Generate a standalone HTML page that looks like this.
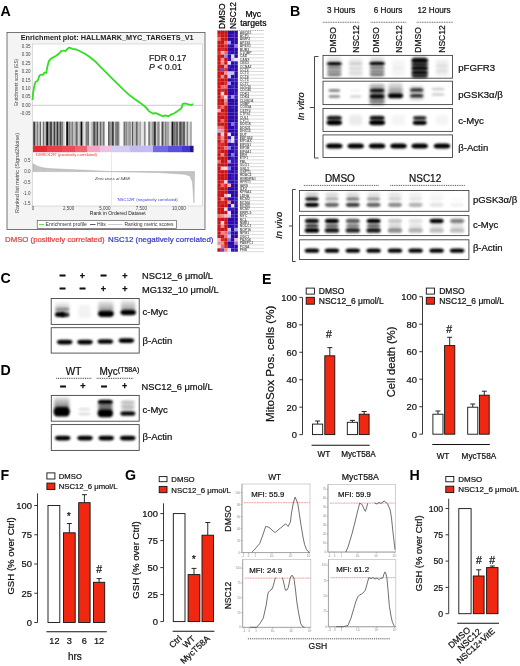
<!DOCTYPE html>
<html><head><meta charset="utf-8"><title>Figure</title>
<style>
html,body{margin:0;padding:0;background:#fff;}
body{width:520px;height:666px;overflow:hidden;}
svg{display:block;font-family:"Liberation Sans", Arial, sans-serif;filter:blur(0.3px);}
</style></head>
<body>
<svg width="520" height="666" viewBox="0 0 520 666">
<rect width="520" height="666" fill="#fff"/>
<text x="0.4" y="15.8" font-size="14.2" text-anchor="start" font-weight="bold" fill="#000" stroke="#000" stroke-width="0.00" >A</text>
<text x="290" y="15.7" font-size="14.2" text-anchor="start" font-weight="bold" fill="#000" stroke="#000" stroke-width="0.00" >B</text>
<text x="0.4" y="282.5" font-size="14.2" text-anchor="start" font-weight="bold" fill="#000" stroke="#000" stroke-width="0.00" >C</text>
<text x="0.5" y="375.4" font-size="14.2" text-anchor="start" font-weight="bold" fill="#000" stroke="#000" stroke-width="0.00" >D</text>
<text x="262" y="283.7" font-size="14.2" text-anchor="start" font-weight="bold" fill="#000" stroke="#000" stroke-width="0.00" >E</text>
<text x="0.6" y="480.2" font-size="14.2" text-anchor="start" font-weight="bold" fill="#000" stroke="#000" stroke-width="0.00" >F</text>
<text x="125" y="480.2" font-size="14.2" text-anchor="start" font-weight="bold" fill="#000" stroke="#000" stroke-width="0.00" >G</text>
<text x="409.4" y="479.6" font-size="14.2" text-anchor="start" font-weight="bold" fill="#000" stroke="#000" stroke-width="0.00" >H</text>
<rect x="7" y="32.5" width="198" height="197" fill="#f4f4f4" stroke="#555" stroke-width="0.8"/>
<text x="20.7" y="39.8" font-size="7.3" text-anchor="start" font-weight="bold" fill="#222" stroke="#222" stroke-width="0.00" >Enrichment plot: HALLMARK_MYC_TARGETS_V1</text>
<rect x="32.5" y="44" width="170" height="162" fill="#fff" stroke="#bbb" stroke-width="0.5"/>
<text x="30.6" y="47.85" font-size="4.5" text-anchor="end" fill="#444" stroke="#444" stroke-width="0.00" >0.35</text>
<text x="30.6" y="56.29" font-size="4.5" text-anchor="end" fill="#444" stroke="#444" stroke-width="0.00" >0.30</text>
<text x="30.6" y="64.72999999999999" font-size="4.5" text-anchor="end" fill="#444" stroke="#444" stroke-width="0.00" >0.25</text>
<text x="30.6" y="73.16999999999999" font-size="4.5" text-anchor="end" fill="#444" stroke="#444" stroke-width="0.00" >0.20</text>
<text x="30.6" y="81.60999999999999" font-size="4.5" text-anchor="end" fill="#444" stroke="#444" stroke-width="0.00" >0.15</text>
<text x="30.6" y="90.04999999999998" font-size="4.5" text-anchor="end" fill="#444" stroke="#444" stroke-width="0.00" >0.10</text>
<text x="30.6" y="98.49" font-size="4.5" text-anchor="end" fill="#444" stroke="#444" stroke-width="0.00" >0.05</text>
<text x="30.6" y="106.92999999999999" font-size="4.5" text-anchor="end" fill="#444" stroke="#444" stroke-width="0.00" >0.00</text>
<text x="30.6" y="115.36999999999999" font-size="4.5" text-anchor="end" fill="#444" stroke="#444" stroke-width="0.00" >-0.05</text>
<line x1="32.5" y1="105.3" x2="202.5" y2="105.3" stroke="#aaa" stroke-width="0.6"/>
<text transform="translate(17.9,82.5) rotate(-90)" font-size="4.7" text-anchor="middle" fill="#444" stroke="#444" stroke-width="0.00">Enrichment score (ES)</text>
<path d="M32.5,100.0 L33.2,92.5 L34.5,85.0 L35.5,82.0 L37.0,81.2 L38.0,80.0 L39.5,75.5 L41.2,74.5 L43.0,75.0 L44.5,72.5 L46.2,73.0 L47.5,66.2 L48.8,61.2 L50.8,58.8 L53.8,57.0 L56.2,55.8 L58.8,53.8 L61.2,51.2 L63.8,50.5 L65.5,51.2 L67.5,48.8 L69.5,47.5 L72.5,48.8 L76.2,49.5 L80.0,51.2 L85.0,53.8 L90.0,57.2 L95.0,61.2 L100.0,66.3 L105.8,72.1 L111.5,77.9 L117.3,83.7 L123.1,89.4 L128.8,94.6 L134.6,99.0 L140.4,102.9 L145.2,106.7 L149.0,111.2 L152.9,113.5 L155.8,113.1 L158.7,114.4 L162.5,116.3 L165.4,115.4 L168.3,116.3 L171.2,114.4 L174.0,113.5 L176.9,111.5 L179.8,109.6 L181.7,107.7 L182.7,103.8 L185.6,103.5 L188.5,104.4 L191.3,104.8 L193.3,104.2" fill="none" stroke="#33dd22" stroke-width="1.8" stroke-linejoin="round"/>
<text x="149.0" y="60.6" font-size="8.76" text-anchor="start" fill="#222" stroke="#222" stroke-width="0.22" >FDR 0.17</text>
<text x="149.0" y="70.3" font-size="8.76" text-anchor="start" fill="#222" stroke="#222" stroke-width="0.22" ><tspan font-style="italic">P</tspan> &lt; 0.01</text>
<defs><filter id="hb" x="-2%" y="0" width="104%" height="100%"><feGaussianBlur stdDeviation="0.35 0"/></filter></defs>
<g filter="url(#hb)">
<rect x="33.20" y="121.6" width="2.32" height="24.2" fill="rgb(63,63,63)"/>
<rect x="35.50" y="121.6" width="1.52" height="24.2" fill="rgb(178,178,178)"/>
<rect x="37.00" y="121.6" width="1.52" height="24.2" fill="rgb(127,127,127)"/>
<rect x="38.50" y="121.6" width="1.22" height="24.2" fill="rgb(191,191,191)"/>
<rect x="39.70" y="121.6" width="1.52" height="24.2" fill="rgb(102,102,102)"/>
<rect x="41.20" y="121.6" width="1.62" height="24.2" fill="rgb(229,229,229)"/>
<rect x="42.80" y="121.6" width="1.52" height="24.2" fill="rgb(114,114,114)"/>
<rect x="44.30" y="121.6" width="1.92" height="24.2" fill="rgb(178,178,178)"/>
<rect x="46.20" y="121.6" width="2.32" height="24.2" fill="rgb(25,25,25)"/>
<rect x="48.50" y="121.6" width="1.52" height="24.2" fill="rgb(140,140,140)"/>
<rect x="50.00" y="121.6" width="2.02" height="24.2" fill="rgb(76,76,76)"/>
<rect x="52.00" y="121.6" width="1.52" height="24.2" fill="rgb(178,178,178)"/>
<rect x="53.50" y="121.6" width="1.52" height="24.2" fill="rgb(63,63,63)"/>
<rect x="55.00" y="121.6" width="1.62" height="24.2" fill="rgb(153,153,153)"/>
<rect x="56.60" y="121.6" width="1.92" height="24.2" fill="rgb(50,50,50)"/>
<rect x="58.50" y="121.6" width="1.52" height="24.2" fill="rgb(140,140,140)"/>
<rect x="60.00" y="121.6" width="1.62" height="24.2" fill="rgb(76,76,76)"/>
<rect x="61.60" y="121.6" width="1.92" height="24.2" fill="rgb(127,127,127)"/>
<rect x="63.50" y="121.6" width="1.52" height="24.2" fill="rgb(216,216,216)"/>
<rect x="65.00" y="121.6" width="1.22" height="24.2" fill="rgb(242,242,242)"/>
<rect x="66.20" y="121.6" width="2.02" height="24.2" fill="rgb(12,12,12)"/>
<rect x="68.20" y="121.6" width="1.82" height="24.2" fill="rgb(127,127,127)"/>
<rect x="70.00" y="121.6" width="2.02" height="24.2" fill="rgb(165,165,165)"/>
<rect x="72.00" y="121.6" width="1.52" height="24.2" fill="rgb(127,127,127)"/>
<rect x="73.50" y="121.6" width="2.02" height="24.2" fill="rgb(191,191,191)"/>
<rect x="75.50" y="121.6" width="2.32" height="24.2" fill="rgb(102,102,102)"/>
<rect x="77.80" y="121.6" width="1.92" height="24.2" fill="rgb(204,204,204)"/>
<rect x="79.70" y="121.6" width="1.12" height="24.2" fill="rgb(127,127,127)"/>
<rect x="80.80" y="121.6" width="1.62" height="24.2" fill="rgb(12,12,12)"/>
<rect x="82.40" y="121.6" width="1.12" height="24.2" fill="rgb(140,140,140)"/>
<rect x="83.50" y="121.6" width="2.02" height="24.2" fill="rgb(229,229,229)"/>
<rect x="85.50" y="121.6" width="1.92" height="24.2" fill="rgb(127,127,127)"/>
<rect x="87.40" y="121.6" width="1.52" height="24.2" fill="rgb(89,89,89)"/>
<rect x="88.90" y="121.6" width="2.32" height="24.2" fill="rgb(224,224,224)"/>
<rect x="91.20" y="121.6" width="2.02" height="24.2" fill="rgb(178,178,178)"/>
<rect x="93.20" y="121.6" width="1.82" height="24.2" fill="rgb(76,76,76)"/>
<rect x="95.00" y="121.6" width="1.62" height="24.2" fill="rgb(140,140,140)"/>
<rect x="96.60" y="121.6" width="1.92" height="24.2" fill="rgb(76,76,76)"/>
<rect x="98.50" y="121.6" width="1.22" height="24.2" fill="rgb(204,204,204)"/>
<rect x="99.70" y="121.6" width="1.92" height="24.2" fill="rgb(102,102,102)"/>
<rect x="101.60" y="121.6" width="1.62" height="24.2" fill="rgb(178,178,178)"/>
<rect x="103.20" y="121.6" width="1.52" height="24.2" fill="rgb(89,89,89)"/>
<rect x="104.70" y="121.6" width="3.52" height="24.2" fill="rgb(247,247,247)"/>
<rect x="108.20" y="121.6" width="1.52" height="24.2" fill="rgb(63,63,63)"/>
<rect x="109.70" y="121.6" width="2.32" height="24.2" fill="rgb(153,153,153)"/>
<rect x="112.00" y="121.6" width="1.92" height="24.2" fill="rgb(63,63,63)"/>
<rect x="113.90" y="121.6" width="1.22" height="24.2" fill="rgb(204,204,204)"/>
<rect x="115.10" y="121.6" width="1.92" height="24.2" fill="rgb(127,127,127)"/>
<rect x="117.00" y="121.6" width="1.92" height="24.2" fill="rgb(114,114,114)"/>
<rect x="118.90" y="121.6" width="1.22" height="24.2" fill="rgb(204,204,204)"/>
<rect x="120.10" y="121.6" width="3.42" height="24.2" fill="rgb(247,247,247)"/>
<rect x="123.50" y="121.6" width="2.02" height="24.2" fill="rgb(114,114,114)"/>
<rect x="125.50" y="121.6" width="1.92" height="24.2" fill="rgb(140,140,140)"/>
<rect x="127.40" y="121.6" width="1.92" height="24.2" fill="rgb(165,165,165)"/>
<rect x="129.30" y="121.6" width="1.52" height="24.2" fill="rgb(127,127,127)"/>
<rect x="130.80" y="121.6" width="1.22" height="24.2" fill="rgb(204,204,204)"/>
<rect x="132.00" y="121.6" width="1.52" height="24.2" fill="rgb(89,89,89)"/>
<rect x="133.50" y="121.6" width="2.32" height="24.2" fill="rgb(191,191,191)"/>
<rect x="135.80" y="121.6" width="2.02" height="24.2" fill="rgb(102,102,102)"/>
<rect x="137.80" y="121.6" width="1.92" height="24.2" fill="rgb(191,191,191)"/>
<rect x="139.70" y="121.6" width="1.12" height="24.2" fill="rgb(127,127,127)"/>
<rect x="140.80" y="121.6" width="3.12" height="24.2" fill="rgb(229,229,229)"/>
<rect x="143.90" y="121.6" width="1.92" height="24.2" fill="rgb(140,140,140)"/>
<rect x="145.80" y="121.6" width="2.42" height="24.2" fill="rgb(247,247,247)"/>
<rect x="148.20" y="121.6" width="1.92" height="24.2" fill="rgb(127,127,127)"/>
<rect x="150.10" y="121.6" width="1.92" height="24.2" fill="rgb(191,191,191)"/>
<rect x="152.00" y="121.6" width="1.72" height="24.2" fill="rgb(153,153,153)"/>
<rect x="153.70" y="121.6" width="2.22" height="24.2" fill="rgb(50,50,50)"/>
<rect x="155.90" y="121.6" width="1.32" height="24.2" fill="rgb(204,204,204)"/>
<rect x="157.20" y="121.6" width="2.62" height="24.2" fill="rgb(140,140,140)"/>
<rect x="159.80" y="121.6" width="1.72" height="24.2" fill="rgb(242,242,242)"/>
<rect x="161.50" y="121.6" width="2.22" height="24.2" fill="rgb(76,76,76)"/>
<rect x="163.70" y="121.6" width="1.32" height="24.2" fill="rgb(191,191,191)"/>
<rect x="165.00" y="121.6" width="1.72" height="24.2" fill="rgb(127,127,127)"/>
<rect x="166.70" y="121.6" width="2.62" height="24.2" fill="rgb(165,165,165)"/>
<rect x="169.30" y="121.6" width="2.22" height="24.2" fill="rgb(216,216,216)"/>
<rect x="171.50" y="121.6" width="2.12" height="24.2" fill="rgb(25,25,25)"/>
<rect x="173.60" y="121.6" width="1.82" height="24.2" fill="rgb(114,114,114)"/>
<rect x="175.40" y="121.6" width="2.62" height="24.2" fill="rgb(102,102,102)"/>
<rect x="178.00" y="121.6" width="1.22" height="24.2" fill="rgb(191,191,191)"/>
<rect x="179.20" y="121.6" width="2.62" height="24.2" fill="rgb(76,76,76)"/>
<rect x="181.80" y="121.6" width="1.32" height="24.2" fill="rgb(140,140,140)"/>
<rect x="183.10" y="121.6" width="1.82" height="24.2" fill="rgb(76,76,76)"/>
<rect x="184.90" y="121.6" width="1.72" height="24.2" fill="rgb(204,204,204)"/>
<rect x="186.60" y="121.6" width="1.72" height="24.2" fill="rgb(127,127,127)"/>
<rect x="188.30" y="121.6" width="1.82" height="24.2" fill="rgb(216,216,216)"/>
<rect x="190.10" y="121.6" width="1.72" height="24.2" fill="rgb(165,165,165)"/>
</g>
<rect x="33" y="145.8" width="14.05" height="6.4" fill="#e42a36"/>
<rect x="47" y="145.8" width="15.05" height="6.4" fill="#e8404c"/>
<rect x="62" y="145.8" width="13.05" height="6.4" fill="#ea4c58"/>
<rect x="75" y="145.8" width="12.05" height="6.4" fill="#ee6470"/>
<rect x="87" y="145.8" width="13.05" height="6.4" fill="#f0a8c4"/>
<rect x="100" y="145.8" width="11.05" height="6.4" fill="#eec0e2"/>
<rect x="111" y="145.8" width="19.05" height="6.4" fill="#d4ccf2"/>
<rect x="130" y="145.8" width="23.05" height="6.4" fill="#c4bcf0"/>
<rect x="153" y="145.8" width="15.05" height="6.4" fill="#7468e2"/>
<rect x="168" y="145.8" width="14.05" height="6.4" fill="#5a4edc"/>
<rect x="182" y="145.8" width="8.05" height="6.4" fill="#4236d4"/>
<rect x="190" y="145.8" width="3.55" height="6.4" fill="#1e1890"/>
<text x="35.5" y="155.8" font-size="4.1" text-anchor="start" fill="#e03030" stroke="#e03030" stroke-width="0.00" >'DMSO12R' (positively correlated)</text>
<text x="30.6" y="162.0" font-size="4.5" text-anchor="end" fill="#444" stroke="#444" stroke-width="0.00" >0.5</text>
<text x="30.6" y="173.2" font-size="4.5" text-anchor="end" fill="#444" stroke="#444" stroke-width="0.00" >0.0</text>
<text x="30.6" y="183.9" font-size="4.5" text-anchor="end" fill="#444" stroke="#444" stroke-width="0.00" >-0.5</text>
<text x="30.6" y="194.6" font-size="4.5" text-anchor="end" fill="#444" stroke="#444" stroke-width="0.00" >-1.0</text>
<text x="30.6" y="205.2" font-size="4.5" text-anchor="end" fill="#444" stroke="#444" stroke-width="0.00" >-1.5</text>
<text transform="translate(19,173) rotate(-90)" font-size="5.41" text-anchor="middle" fill="#444" stroke="#444" stroke-width="0.00">Ranked list metric (Signal2Noise)</text>
<line x1="111.5" y1="152.5" x2="111.5" y2="205.5" stroke="#d4d4d4" stroke-width="0.5"/>
<path d="M33,171.6 L33,163.5 C36,166 40,167.5 48,168.5 L100,171.0 L111.5,171.6 L160,172.6 L185,174.2 L190,176 L192.5,182 L194,203 L194.5,171.6 Z" fill="#c4c4c4" stroke="#999" stroke-width="0.4"/>
<text x="95" y="179.5" font-size="4.2" text-anchor="start" font-style="italic" fill="#333" stroke="#333" stroke-width="0.00" >Zero cross at 5458</text>
<text x="117" y="200.5" font-size="4.19" text-anchor="start" fill="#4040e0" stroke="#4040e0" stroke-width="0.00" >'NSC12R' (negatively correlated)</text>
<text x="33" y="209.8" font-size="4.5" text-anchor="middle" fill="#444" stroke="#444" stroke-width="0.00" >0</text>
<text x="68.7" y="209.8" font-size="4.5" text-anchor="middle" fill="#444" stroke="#444" stroke-width="0.00" >2,500</text>
<text x="105" y="209.8" font-size="4.5" text-anchor="middle" fill="#444" stroke="#444" stroke-width="0.00" >5,000</text>
<text x="141.4" y="209.8" font-size="4.5" text-anchor="middle" fill="#444" stroke="#444" stroke-width="0.00" >7,500</text>
<text x="179" y="209.8" font-size="4.5" text-anchor="middle" fill="#444" stroke="#444" stroke-width="0.00" >10,000</text>
<text x="89.8" y="215.4" font-size="5.05" text-anchor="start" fill="#222" stroke="#222" stroke-width="0.00" >Rank in Ordered Dataset</text>
<rect x="37.2" y="220.4" width="139.3" height="8" fill="#fff" stroke="#444" stroke-width="0.6"/>
<line x1="39" y1="224.5" x2="44" y2="224.5" stroke="#33dd22" stroke-width="0.8"/>
<text x="45.6" y="226.3" font-size="5.11" text-anchor="start" fill="#333" stroke="#333" stroke-width="0.00" >Enrichment profile</text>
<line x1="90" y1="224.5" x2="95.5" y2="224.5" stroke="#333" stroke-width="0.8"/>
<text x="97" y="226.3" font-size="5.11" text-anchor="start" fill="#333" stroke="#333" stroke-width="0.00" >Hits</text>
<line x1="108" y1="224.5" x2="122.5" y2="224.5" stroke="#bbb" stroke-width="0.8"/>
<text x="124.4" y="226.3" font-size="4.98" text-anchor="start" fill="#333" stroke="#333" stroke-width="0.00" >Ranking metric scores</text>
<text x="5" y="242" font-size="7.8" text-anchor="start" fill="#e23a3a" stroke="#e23a3a" stroke-width="0.21" >DMSO (positively correlated)</text>
<text x="108" y="242" font-size="7.89" text-anchor="start" fill="#3a3ac4" stroke="#3a3ac4" stroke-width="0.22" >NSC12 (negatively correlated)</text>
<rect x="217.40" y="30.70" width="3.45" height="3.45" fill="#cc1212"/>
<rect x="220.80" y="30.70" width="3.45" height="3.45" fill="#cc1212"/>
<rect x="224.20" y="30.70" width="3.45" height="3.45" fill="#cc1212"/>
<rect x="227.60" y="30.70" width="3.45" height="3.45" fill="#2a0aaa"/>
<rect x="231.00" y="30.70" width="3.45" height="3.45" fill="#2a0aaa"/>
<rect x="234.40" y="30.70" width="3.45" height="3.45" fill="#2a0aaa"/>
<rect x="217.40" y="34.10" width="3.45" height="3.45" fill="#dc2626"/>
<rect x="220.80" y="34.10" width="3.45" height="3.45" fill="#cc1212"/>
<rect x="224.20" y="34.10" width="3.45" height="3.45" fill="#cc1212"/>
<rect x="227.60" y="34.10" width="3.45" height="3.45" fill="#2a0aaa"/>
<rect x="231.00" y="34.10" width="3.45" height="3.45" fill="#3618bc"/>
<rect x="234.40" y="34.10" width="3.45" height="3.45" fill="#2a0aaa"/>
<rect x="217.40" y="37.50" width="3.45" height="3.45" fill="#ee6a6a"/>
<rect x="220.80" y="37.50" width="3.45" height="3.45" fill="#cc1212"/>
<rect x="224.20" y="37.50" width="3.45" height="3.45" fill="#cc1212"/>
<rect x="227.60" y="37.50" width="3.45" height="3.45" fill="#2a0aaa"/>
<rect x="231.00" y="37.50" width="3.45" height="3.45" fill="#2a0aaa"/>
<rect x="234.40" y="37.50" width="3.45" height="3.45" fill="#2a0aaa"/>
<rect x="217.40" y="40.90" width="3.45" height="3.45" fill="#cc1212"/>
<rect x="220.80" y="40.90" width="3.45" height="3.45" fill="#cc1212"/>
<rect x="224.20" y="40.90" width="3.45" height="3.45" fill="#ee6a6a"/>
<rect x="227.60" y="40.90" width="3.45" height="3.45" fill="#a49cec"/>
<rect x="231.00" y="40.90" width="3.45" height="3.45" fill="#2a0aaa"/>
<rect x="234.40" y="40.90" width="3.45" height="3.45" fill="#2a0aaa"/>
<rect x="217.40" y="44.30" width="3.45" height="3.45" fill="#cc1212"/>
<rect x="220.80" y="44.30" width="3.45" height="3.45" fill="#cc1212"/>
<rect x="224.20" y="44.30" width="3.45" height="3.45" fill="#dc2626"/>
<rect x="227.60" y="44.30" width="3.45" height="3.45" fill="#3618bc"/>
<rect x="231.00" y="44.30" width="3.45" height="3.45" fill="#2a0aaa"/>
<rect x="234.40" y="44.30" width="3.45" height="3.45" fill="#8478e4"/>
<rect x="217.40" y="47.70" width="3.45" height="3.45" fill="#cc1212"/>
<rect x="220.80" y="47.70" width="3.45" height="3.45" fill="#dc2626"/>
<rect x="224.20" y="47.70" width="3.45" height="3.45" fill="#cc1212"/>
<rect x="227.60" y="47.70" width="3.45" height="3.45" fill="#2a0aaa"/>
<rect x="231.00" y="47.70" width="3.45" height="3.45" fill="#2a0aaa"/>
<rect x="234.40" y="47.70" width="3.45" height="3.45" fill="#2a0aaa"/>
<rect x="217.40" y="51.10" width="3.45" height="3.45" fill="#dc2626"/>
<rect x="220.80" y="51.10" width="3.45" height="3.45" fill="#f6b0b8"/>
<rect x="224.20" y="51.10" width="3.45" height="3.45" fill="#ee6a6a"/>
<rect x="227.60" y="51.10" width="3.45" height="3.45" fill="#3618bc"/>
<rect x="231.00" y="51.10" width="3.45" height="3.45" fill="#2a0aaa"/>
<rect x="234.40" y="51.10" width="3.45" height="3.45" fill="#2a0aaa"/>
<rect x="217.40" y="54.50" width="3.45" height="3.45" fill="#cc1212"/>
<rect x="220.80" y="54.50" width="3.45" height="3.45" fill="#cc1212"/>
<rect x="224.20" y="54.50" width="3.45" height="3.45" fill="#8c84e8"/>
<rect x="227.60" y="54.50" width="3.45" height="3.45" fill="#2a0aaa"/>
<rect x="231.00" y="54.50" width="3.45" height="3.45" fill="#e4e0fa"/>
<rect x="234.40" y="54.50" width="3.45" height="3.45" fill="#2a0aaa"/>
<rect x="217.40" y="57.90" width="3.45" height="3.45" fill="#cc1212"/>
<rect x="220.80" y="57.90" width="3.45" height="3.45" fill="#f28c8c"/>
<rect x="224.20" y="57.90" width="3.45" height="3.45" fill="#cc1212"/>
<rect x="227.60" y="57.90" width="3.45" height="3.45" fill="#3618bc"/>
<rect x="231.00" y="57.90" width="3.45" height="3.45" fill="#c8c2f4"/>
<rect x="234.40" y="57.90" width="3.45" height="3.45" fill="#e4e0fa"/>
<rect x="217.40" y="61.30" width="3.45" height="3.45" fill="#cc1212"/>
<rect x="220.80" y="61.30" width="3.45" height="3.45" fill="#f28c8c"/>
<rect x="224.20" y="61.30" width="3.45" height="3.45" fill="#cc1212"/>
<rect x="227.60" y="61.30" width="3.45" height="3.45" fill="#e4e0fa"/>
<rect x="231.00" y="61.30" width="3.45" height="3.45" fill="#2a0aaa"/>
<rect x="234.40" y="61.30" width="3.45" height="3.45" fill="#3618bc"/>
<rect x="217.40" y="64.70" width="3.45" height="3.45" fill="#cc1212"/>
<rect x="220.80" y="64.70" width="3.45" height="3.45" fill="#cc1212"/>
<rect x="224.20" y="64.70" width="3.45" height="3.45" fill="#f28c8c"/>
<rect x="227.60" y="64.70" width="3.45" height="3.45" fill="#3618bc"/>
<rect x="231.00" y="64.70" width="3.45" height="3.45" fill="#2a0aaa"/>
<rect x="234.40" y="64.70" width="3.45" height="3.45" fill="#2a0aaa"/>
<rect x="217.40" y="68.10" width="3.45" height="3.45" fill="#cc1212"/>
<rect x="220.80" y="68.10" width="3.45" height="3.45" fill="#5a4cd8"/>
<rect x="224.20" y="68.10" width="3.45" height="3.45" fill="#dc2626"/>
<rect x="227.60" y="68.10" width="3.45" height="3.45" fill="#2a0aaa"/>
<rect x="231.00" y="68.10" width="3.45" height="3.45" fill="#3618bc"/>
<rect x="234.40" y="68.10" width="3.45" height="3.45" fill="#2a0aaa"/>
<rect x="217.40" y="71.50" width="3.45" height="3.45" fill="#cc1212"/>
<rect x="220.80" y="71.50" width="3.45" height="3.45" fill="#cc1212"/>
<rect x="224.20" y="71.50" width="3.45" height="3.45" fill="#f28c8c"/>
<rect x="227.60" y="71.50" width="3.45" height="3.45" fill="#c8c2f4"/>
<rect x="231.00" y="71.50" width="3.45" height="3.45" fill="#c8c2f4"/>
<rect x="234.40" y="71.50" width="3.45" height="3.45" fill="#2a0aaa"/>
<rect x="217.40" y="74.90" width="3.45" height="3.45" fill="#cc1212"/>
<rect x="220.80" y="74.90" width="3.45" height="3.45" fill="#f28c8c"/>
<rect x="224.20" y="74.90" width="3.45" height="3.45" fill="#cc1212"/>
<rect x="227.60" y="74.90" width="3.45" height="3.45" fill="#c8c2f4"/>
<rect x="231.00" y="74.90" width="3.45" height="3.45" fill="#2a0aaa"/>
<rect x="234.40" y="74.90" width="3.45" height="3.45" fill="#2a0aaa"/>
<rect x="217.40" y="78.30" width="3.45" height="3.45" fill="#cc1212"/>
<rect x="220.80" y="78.30" width="3.45" height="3.45" fill="#cc1212"/>
<rect x="224.20" y="78.30" width="3.45" height="3.45" fill="#cc1212"/>
<rect x="227.60" y="78.30" width="3.45" height="3.45" fill="#2a0aaa"/>
<rect x="231.00" y="78.30" width="3.45" height="3.45" fill="#3618bc"/>
<rect x="234.40" y="78.30" width="3.45" height="3.45" fill="#3618bc"/>
<rect x="217.40" y="81.70" width="3.45" height="3.45" fill="#cc1212"/>
<rect x="220.80" y="81.70" width="3.45" height="3.45" fill="#cc1212"/>
<rect x="224.20" y="81.70" width="3.45" height="3.45" fill="#dc2626"/>
<rect x="227.60" y="81.70" width="3.45" height="3.45" fill="#a49cec"/>
<rect x="231.00" y="81.70" width="3.45" height="3.45" fill="#2a0aaa"/>
<rect x="234.40" y="81.70" width="3.45" height="3.45" fill="#2a0aaa"/>
<rect x="217.40" y="85.10" width="3.45" height="3.45" fill="#cc1212"/>
<rect x="220.80" y="85.10" width="3.45" height="3.45" fill="#ee6a6a"/>
<rect x="224.20" y="85.10" width="3.45" height="3.45" fill="#ee6a6a"/>
<rect x="227.60" y="85.10" width="3.45" height="3.45" fill="#2a0aaa"/>
<rect x="231.00" y="85.10" width="3.45" height="3.45" fill="#3618bc"/>
<rect x="234.40" y="85.10" width="3.45" height="3.45" fill="#2a0aaa"/>
<rect x="217.40" y="88.50" width="3.45" height="3.45" fill="#cc1212"/>
<rect x="220.80" y="88.50" width="3.45" height="3.45" fill="#dc2626"/>
<rect x="224.20" y="88.50" width="3.45" height="3.45" fill="#cc1212"/>
<rect x="227.60" y="88.50" width="3.45" height="3.45" fill="#2a0aaa"/>
<rect x="231.00" y="88.50" width="3.45" height="3.45" fill="#2a0aaa"/>
<rect x="234.40" y="88.50" width="3.45" height="3.45" fill="#2a0aaa"/>
<rect x="217.40" y="91.90" width="3.45" height="3.45" fill="#cc1212"/>
<rect x="220.80" y="91.90" width="3.45" height="3.45" fill="#fad4dc"/>
<rect x="224.20" y="91.90" width="3.45" height="3.45" fill="#cc1212"/>
<rect x="227.60" y="91.90" width="3.45" height="3.45" fill="#2a0aaa"/>
<rect x="231.00" y="91.90" width="3.45" height="3.45" fill="#2a0aaa"/>
<rect x="234.40" y="91.90" width="3.45" height="3.45" fill="#3618bc"/>
<rect x="217.40" y="95.30" width="3.45" height="3.45" fill="#cc1212"/>
<rect x="220.80" y="95.30" width="3.45" height="3.45" fill="#ee6a6a"/>
<rect x="224.20" y="95.30" width="3.45" height="3.45" fill="#fad4dc"/>
<rect x="227.60" y="95.30" width="3.45" height="3.45" fill="#3618bc"/>
<rect x="231.00" y="95.30" width="3.45" height="3.45" fill="#a49cec"/>
<rect x="234.40" y="95.30" width="3.45" height="3.45" fill="#3618bc"/>
<rect x="217.40" y="98.70" width="3.45" height="3.45" fill="#cc1212"/>
<rect x="220.80" y="98.70" width="3.45" height="3.45" fill="#cc1212"/>
<rect x="224.20" y="98.70" width="3.45" height="3.45" fill="#f28c8c"/>
<rect x="227.60" y="98.70" width="3.45" height="3.45" fill="#2a0aaa"/>
<rect x="231.00" y="98.70" width="3.45" height="3.45" fill="#2a0aaa"/>
<rect x="234.40" y="98.70" width="3.45" height="3.45" fill="#2a0aaa"/>
<rect x="217.40" y="102.10" width="3.45" height="3.45" fill="#cc1212"/>
<rect x="220.80" y="102.10" width="3.45" height="3.45" fill="#cc1212"/>
<rect x="224.20" y="102.10" width="3.45" height="3.45" fill="#ee6a6a"/>
<rect x="227.60" y="102.10" width="3.45" height="3.45" fill="#2a0aaa"/>
<rect x="231.00" y="102.10" width="3.45" height="3.45" fill="#2a0aaa"/>
<rect x="234.40" y="102.10" width="3.45" height="3.45" fill="#2a0aaa"/>
<rect x="217.40" y="105.50" width="3.45" height="3.45" fill="#dc2626"/>
<rect x="220.80" y="105.50" width="3.45" height="3.45" fill="#ee6a6a"/>
<rect x="224.20" y="105.50" width="3.45" height="3.45" fill="#cc1212"/>
<rect x="227.60" y="105.50" width="3.45" height="3.45" fill="#2a0aaa"/>
<rect x="231.00" y="105.50" width="3.45" height="3.45" fill="#3618bc"/>
<rect x="234.40" y="105.50" width="3.45" height="3.45" fill="#2a0aaa"/>
<rect x="217.40" y="108.90" width="3.45" height="3.45" fill="#f6b0b8"/>
<rect x="220.80" y="108.90" width="3.45" height="3.45" fill="#cc1212"/>
<rect x="224.20" y="108.90" width="3.45" height="3.45" fill="#cc1212"/>
<rect x="227.60" y="108.90" width="3.45" height="3.45" fill="#2a0aaa"/>
<rect x="231.00" y="108.90" width="3.45" height="3.45" fill="#2a0aaa"/>
<rect x="234.40" y="108.90" width="3.45" height="3.45" fill="#2a0aaa"/>
<rect x="217.40" y="112.30" width="3.45" height="3.45" fill="#cc1212"/>
<rect x="220.80" y="112.30" width="3.45" height="3.45" fill="#dc2626"/>
<rect x="224.20" y="112.30" width="3.45" height="3.45" fill="#cc1212"/>
<rect x="227.60" y="112.30" width="3.45" height="3.45" fill="#2a0aaa"/>
<rect x="231.00" y="112.30" width="3.45" height="3.45" fill="#2a0aaa"/>
<rect x="234.40" y="112.30" width="3.45" height="3.45" fill="#2a0aaa"/>
<rect x="217.40" y="115.70" width="3.45" height="3.45" fill="#cc1212"/>
<rect x="220.80" y="115.70" width="3.45" height="3.45" fill="#cc1212"/>
<rect x="224.20" y="115.70" width="3.45" height="3.45" fill="#cc1212"/>
<rect x="227.60" y="115.70" width="3.45" height="3.45" fill="#2a0aaa"/>
<rect x="231.00" y="115.70" width="3.45" height="3.45" fill="#2a0aaa"/>
<rect x="234.40" y="115.70" width="3.45" height="3.45" fill="#2a0aaa"/>
<rect x="217.40" y="119.10" width="3.45" height="3.45" fill="#cc1212"/>
<rect x="220.80" y="119.10" width="3.45" height="3.45" fill="#ee6a6a"/>
<rect x="224.20" y="119.10" width="3.45" height="3.45" fill="#cc1212"/>
<rect x="227.60" y="119.10" width="3.45" height="3.45" fill="#2a0aaa"/>
<rect x="231.00" y="119.10" width="3.45" height="3.45" fill="#2a0aaa"/>
<rect x="234.40" y="119.10" width="3.45" height="3.45" fill="#2a0aaa"/>
<rect x="217.40" y="122.50" width="3.45" height="3.45" fill="#cc1212"/>
<rect x="220.80" y="122.50" width="3.45" height="3.45" fill="#cc1212"/>
<rect x="224.20" y="122.50" width="3.45" height="3.45" fill="#cc1212"/>
<rect x="227.60" y="122.50" width="3.45" height="3.45" fill="#2a0aaa"/>
<rect x="231.00" y="122.50" width="3.45" height="3.45" fill="#8478e4"/>
<rect x="234.40" y="122.50" width="3.45" height="3.45" fill="#3618bc"/>
<rect x="217.40" y="125.90" width="3.45" height="3.45" fill="#ee6a6a"/>
<rect x="220.80" y="125.90" width="3.45" height="3.45" fill="#ee6a6a"/>
<rect x="224.20" y="125.90" width="3.45" height="3.45" fill="#cc1212"/>
<rect x="227.60" y="125.90" width="3.45" height="3.45" fill="#2a0aaa"/>
<rect x="231.00" y="125.90" width="3.45" height="3.45" fill="#2a0aaa"/>
<rect x="234.40" y="125.90" width="3.45" height="3.45" fill="#3618bc"/>
<rect x="217.40" y="129.30" width="3.45" height="3.45" fill="#b0a8f0"/>
<rect x="220.80" y="129.30" width="3.45" height="3.45" fill="#f28c8c"/>
<rect x="224.20" y="129.30" width="3.45" height="3.45" fill="#cc1212"/>
<rect x="227.60" y="129.30" width="3.45" height="3.45" fill="#2a0aaa"/>
<rect x="231.00" y="129.30" width="3.45" height="3.45" fill="#2a0aaa"/>
<rect x="234.40" y="129.30" width="3.45" height="3.45" fill="#2a0aaa"/>
<rect x="217.40" y="132.70" width="3.45" height="3.45" fill="#cc1212"/>
<rect x="220.80" y="132.70" width="3.45" height="3.45" fill="#fad4dc"/>
<rect x="224.20" y="132.70" width="3.45" height="3.45" fill="#cc1212"/>
<rect x="227.60" y="132.70" width="3.45" height="3.45" fill="#e4e0fa"/>
<rect x="231.00" y="132.70" width="3.45" height="3.45" fill="#2a0aaa"/>
<rect x="234.40" y="132.70" width="3.45" height="3.45" fill="#2a0aaa"/>
<rect x="217.40" y="136.10" width="3.45" height="3.45" fill="#dc2626"/>
<rect x="220.80" y="136.10" width="3.45" height="3.45" fill="#f28c8c"/>
<rect x="224.20" y="136.10" width="3.45" height="3.45" fill="#cc1212"/>
<rect x="227.60" y="136.10" width="3.45" height="3.45" fill="#3618bc"/>
<rect x="231.00" y="136.10" width="3.45" height="3.45" fill="#e4e0fa"/>
<rect x="234.40" y="136.10" width="3.45" height="3.45" fill="#3618bc"/>
<rect x="217.40" y="139.50" width="3.45" height="3.45" fill="#cc1212"/>
<rect x="220.80" y="139.50" width="3.45" height="3.45" fill="#ee6a6a"/>
<rect x="224.20" y="139.50" width="3.45" height="3.45" fill="#cc1212"/>
<rect x="227.60" y="139.50" width="3.45" height="3.45" fill="#a49cec"/>
<rect x="231.00" y="139.50" width="3.45" height="3.45" fill="#e4e0fa"/>
<rect x="234.40" y="139.50" width="3.45" height="3.45" fill="#3618bc"/>
<rect x="217.40" y="142.90" width="3.45" height="3.45" fill="#dc2626"/>
<rect x="220.80" y="142.90" width="3.45" height="3.45" fill="#dc2626"/>
<rect x="224.20" y="142.90" width="3.45" height="3.45" fill="#cc1212"/>
<rect x="227.60" y="142.90" width="3.45" height="3.45" fill="#2a0aaa"/>
<rect x="231.00" y="142.90" width="3.45" height="3.45" fill="#3618bc"/>
<rect x="234.40" y="142.90" width="3.45" height="3.45" fill="#2a0aaa"/>
<rect x="217.40" y="146.30" width="3.45" height="3.45" fill="#cc1212"/>
<rect x="220.80" y="146.30" width="3.45" height="3.45" fill="#dc2626"/>
<rect x="224.20" y="146.30" width="3.45" height="3.45" fill="#ee6a6a"/>
<rect x="227.60" y="146.30" width="3.45" height="3.45" fill="#8478e4"/>
<rect x="231.00" y="146.30" width="3.45" height="3.45" fill="#2a0aaa"/>
<rect x="234.40" y="146.30" width="3.45" height="3.45" fill="#3618bc"/>
<rect x="217.40" y="149.70" width="3.45" height="3.45" fill="#dc2626"/>
<rect x="220.80" y="149.70" width="3.45" height="3.45" fill="#cc1212"/>
<rect x="224.20" y="149.70" width="3.45" height="3.45" fill="#cc1212"/>
<rect x="227.60" y="149.70" width="3.45" height="3.45" fill="#2a0aaa"/>
<rect x="231.00" y="149.70" width="3.45" height="3.45" fill="#2a0aaa"/>
<rect x="234.40" y="149.70" width="3.45" height="3.45" fill="#3618bc"/>
<rect x="217.40" y="153.10" width="3.45" height="3.45" fill="#cc1212"/>
<rect x="220.80" y="153.10" width="3.45" height="3.45" fill="#f28c8c"/>
<rect x="224.20" y="153.10" width="3.45" height="3.45" fill="#cc1212"/>
<rect x="227.60" y="153.10" width="3.45" height="3.45" fill="#2a0aaa"/>
<rect x="231.00" y="153.10" width="3.45" height="3.45" fill="#8478e4"/>
<rect x="234.40" y="153.10" width="3.45" height="3.45" fill="#2a0aaa"/>
<rect x="217.40" y="156.50" width="3.45" height="3.45" fill="#cc1212"/>
<rect x="220.80" y="156.50" width="3.45" height="3.45" fill="#cc1212"/>
<rect x="224.20" y="156.50" width="3.45" height="3.45" fill="#cc1212"/>
<rect x="227.60" y="156.50" width="3.45" height="3.45" fill="#2a0aaa"/>
<rect x="231.00" y="156.50" width="3.45" height="3.45" fill="#3618bc"/>
<rect x="234.40" y="156.50" width="3.45" height="3.45" fill="#2a0aaa"/>
<rect x="217.40" y="159.90" width="3.45" height="3.45" fill="#ee6a6a"/>
<rect x="220.80" y="159.90" width="3.45" height="3.45" fill="#cc1212"/>
<rect x="224.20" y="159.90" width="3.45" height="3.45" fill="#cc1212"/>
<rect x="227.60" y="159.90" width="3.45" height="3.45" fill="#a49cec"/>
<rect x="231.00" y="159.90" width="3.45" height="3.45" fill="#3618bc"/>
<rect x="234.40" y="159.90" width="3.45" height="3.45" fill="#3618bc"/>
<rect x="217.40" y="163.30" width="3.45" height="3.45" fill="#cc1212"/>
<rect x="220.80" y="163.30" width="3.45" height="3.45" fill="#cc1212"/>
<rect x="224.20" y="163.30" width="3.45" height="3.45" fill="#cc1212"/>
<rect x="227.60" y="163.30" width="3.45" height="3.45" fill="#2a0aaa"/>
<rect x="231.00" y="163.30" width="3.45" height="3.45" fill="#2a0aaa"/>
<rect x="234.40" y="163.30" width="3.45" height="3.45" fill="#2a0aaa"/>
<rect x="217.40" y="166.70" width="3.45" height="3.45" fill="#cc1212"/>
<rect x="220.80" y="166.70" width="3.45" height="3.45" fill="#fad4dc"/>
<rect x="224.20" y="166.70" width="3.45" height="3.45" fill="#fad4dc"/>
<rect x="227.60" y="166.70" width="3.45" height="3.45" fill="#8478e4"/>
<rect x="231.00" y="166.70" width="3.45" height="3.45" fill="#2a0aaa"/>
<rect x="234.40" y="166.70" width="3.45" height="3.45" fill="#2a0aaa"/>
<rect x="217.40" y="170.10" width="3.45" height="3.45" fill="#cc1212"/>
<rect x="220.80" y="170.10" width="3.45" height="3.45" fill="#cc1212"/>
<rect x="224.20" y="170.10" width="3.45" height="3.45" fill="#cc1212"/>
<rect x="227.60" y="170.10" width="3.45" height="3.45" fill="#3618bc"/>
<rect x="231.00" y="170.10" width="3.45" height="3.45" fill="#2a0aaa"/>
<rect x="234.40" y="170.10" width="3.45" height="3.45" fill="#3618bc"/>
<rect x="217.40" y="173.50" width="3.45" height="3.45" fill="#cc1212"/>
<rect x="220.80" y="173.50" width="3.45" height="3.45" fill="#cc1212"/>
<rect x="224.20" y="173.50" width="3.45" height="3.45" fill="#cc1212"/>
<rect x="227.60" y="173.50" width="3.45" height="3.45" fill="#2a0aaa"/>
<rect x="231.00" y="173.50" width="3.45" height="3.45" fill="#3618bc"/>
<rect x="234.40" y="173.50" width="3.45" height="3.45" fill="#2a0aaa"/>
<rect x="217.40" y="176.90" width="3.45" height="3.45" fill="#cc1212"/>
<rect x="220.80" y="176.90" width="3.45" height="3.45" fill="#cc1212"/>
<rect x="224.20" y="176.90" width="3.45" height="3.45" fill="#cc1212"/>
<rect x="227.60" y="176.90" width="3.45" height="3.45" fill="#2a0aaa"/>
<rect x="231.00" y="176.90" width="3.45" height="3.45" fill="#3618bc"/>
<rect x="234.40" y="176.90" width="3.45" height="3.45" fill="#2a0aaa"/>
<rect x="217.40" y="180.30" width="3.45" height="3.45" fill="#cc1212"/>
<rect x="220.80" y="180.30" width="3.45" height="3.45" fill="#dc2626"/>
<rect x="224.20" y="180.30" width="3.45" height="3.45" fill="#fad4dc"/>
<rect x="227.60" y="180.30" width="3.45" height="3.45" fill="#3618bc"/>
<rect x="231.00" y="180.30" width="3.45" height="3.45" fill="#2a0aaa"/>
<rect x="234.40" y="180.30" width="3.45" height="3.45" fill="#3618bc"/>
<rect x="217.40" y="183.70" width="3.45" height="3.45" fill="#cc1212"/>
<rect x="220.80" y="183.70" width="3.45" height="3.45" fill="#ee6a6a"/>
<rect x="224.20" y="183.70" width="3.45" height="3.45" fill="#dc2626"/>
<rect x="227.60" y="183.70" width="3.45" height="3.45" fill="#f4b0b8"/>
<rect x="231.00" y="183.70" width="3.45" height="3.45" fill="#2a0aaa"/>
<rect x="234.40" y="183.70" width="3.45" height="3.45" fill="#2a0aaa"/>
<rect x="217.40" y="187.10" width="3.45" height="3.45" fill="#cc1212"/>
<rect x="220.80" y="187.10" width="3.45" height="3.45" fill="#cc1212"/>
<rect x="224.20" y="187.10" width="3.45" height="3.45" fill="#cc1212"/>
<rect x="227.60" y="187.10" width="3.45" height="3.45" fill="#2a0aaa"/>
<rect x="231.00" y="187.10" width="3.45" height="3.45" fill="#2a0aaa"/>
<rect x="234.40" y="187.10" width="3.45" height="3.45" fill="#2a0aaa"/>
<rect x="217.40" y="190.50" width="3.45" height="3.45" fill="#cc1212"/>
<rect x="220.80" y="190.50" width="3.45" height="3.45" fill="#cc1212"/>
<rect x="224.20" y="190.50" width="3.45" height="3.45" fill="#cc1212"/>
<rect x="227.60" y="190.50" width="3.45" height="3.45" fill="#2a0aaa"/>
<rect x="231.00" y="190.50" width="3.45" height="3.45" fill="#2a0aaa"/>
<rect x="234.40" y="190.50" width="3.45" height="3.45" fill="#2a0aaa"/>
<rect x="217.40" y="193.90" width="3.45" height="3.45" fill="#cc1212"/>
<rect x="220.80" y="193.90" width="3.45" height="3.45" fill="#cc1212"/>
<rect x="224.20" y="193.90" width="3.45" height="3.45" fill="#f6b0b8"/>
<rect x="227.60" y="193.90" width="3.45" height="3.45" fill="#e4e0fa"/>
<rect x="231.00" y="193.90" width="3.45" height="3.45" fill="#2a0aaa"/>
<rect x="234.40" y="193.90" width="3.45" height="3.45" fill="#2a0aaa"/>
<rect x="217.40" y="197.30" width="3.45" height="3.45" fill="#cc1212"/>
<rect x="220.80" y="197.30" width="3.45" height="3.45" fill="#f28c8c"/>
<rect x="224.20" y="197.30" width="3.45" height="3.45" fill="#cc1212"/>
<rect x="227.60" y="197.30" width="3.45" height="3.45" fill="#2a0aaa"/>
<rect x="231.00" y="197.30" width="3.45" height="3.45" fill="#2a0aaa"/>
<rect x="234.40" y="197.30" width="3.45" height="3.45" fill="#3618bc"/>
<rect x="217.40" y="200.70" width="3.45" height="3.45" fill="#cc1212"/>
<rect x="220.80" y="200.70" width="3.45" height="3.45" fill="#dc2626"/>
<rect x="224.20" y="200.70" width="3.45" height="3.45" fill="#cc1212"/>
<rect x="227.60" y="200.70" width="3.45" height="3.45" fill="#f08a8a"/>
<rect x="231.00" y="200.70" width="3.45" height="3.45" fill="#2a0aaa"/>
<rect x="234.40" y="200.70" width="3.45" height="3.45" fill="#3618bc"/>
<rect x="217.40" y="204.10" width="3.45" height="3.45" fill="#cc1212"/>
<rect x="220.80" y="204.10" width="3.45" height="3.45" fill="#cc1212"/>
<rect x="224.20" y="204.10" width="3.45" height="3.45" fill="#cc1212"/>
<rect x="227.60" y="204.10" width="3.45" height="3.45" fill="#2a0aaa"/>
<rect x="231.00" y="204.10" width="3.45" height="3.45" fill="#e4e0fa"/>
<rect x="234.40" y="204.10" width="3.45" height="3.45" fill="#2a0aaa"/>
<rect x="217.40" y="207.50" width="3.45" height="3.45" fill="#cc1212"/>
<rect x="220.80" y="207.50" width="3.45" height="3.45" fill="#cc1212"/>
<rect x="224.20" y="207.50" width="3.45" height="3.45" fill="#fad4dc"/>
<rect x="227.60" y="207.50" width="3.45" height="3.45" fill="#3618bc"/>
<rect x="231.00" y="207.50" width="3.45" height="3.45" fill="#3618bc"/>
<rect x="234.40" y="207.50" width="3.45" height="3.45" fill="#2a0aaa"/>
<rect x="217.40" y="210.90" width="3.45" height="3.45" fill="#cc1212"/>
<rect x="220.80" y="210.90" width="3.45" height="3.45" fill="#cc1212"/>
<rect x="224.20" y="210.90" width="3.45" height="3.45" fill="#cc1212"/>
<rect x="227.60" y="210.90" width="3.45" height="3.45" fill="#e4e0fa"/>
<rect x="231.00" y="210.90" width="3.45" height="3.45" fill="#2a0aaa"/>
<rect x="234.40" y="210.90" width="3.45" height="3.45" fill="#2a0aaa"/>
<rect x="217.40" y="214.30" width="3.45" height="3.45" fill="#ee6a6a"/>
<rect x="220.80" y="214.30" width="3.45" height="3.45" fill="#f28c8c"/>
<rect x="224.20" y="214.30" width="3.45" height="3.45" fill="#f6b0b8"/>
<rect x="227.60" y="214.30" width="3.45" height="3.45" fill="#c8c2f4"/>
<rect x="231.00" y="214.30" width="3.45" height="3.45" fill="#3618bc"/>
<rect x="234.40" y="214.30" width="3.45" height="3.45" fill="#2a0aaa"/>
<rect x="217.40" y="217.70" width="3.45" height="3.45" fill="#cc1212"/>
<rect x="220.80" y="217.70" width="3.45" height="3.45" fill="#cc1212"/>
<rect x="224.20" y="217.70" width="3.45" height="3.45" fill="#cc1212"/>
<rect x="227.60" y="217.70" width="3.45" height="3.45" fill="#2a0aaa"/>
<rect x="231.00" y="217.70" width="3.45" height="3.45" fill="#2a0aaa"/>
<rect x="234.40" y="217.70" width="3.45" height="3.45" fill="#2a0aaa"/>
<rect x="217.40" y="221.10" width="3.45" height="3.45" fill="#cc1212"/>
<rect x="220.80" y="221.10" width="3.45" height="3.45" fill="#fad4dc"/>
<rect x="224.20" y="221.10" width="3.45" height="3.45" fill="#cc1212"/>
<rect x="227.60" y="221.10" width="3.45" height="3.45" fill="#2a0aaa"/>
<rect x="231.00" y="221.10" width="3.45" height="3.45" fill="#2a0aaa"/>
<rect x="234.40" y="221.10" width="3.45" height="3.45" fill="#2a0aaa"/>
<rect x="217.40" y="224.50" width="3.45" height="3.45" fill="#cc1212"/>
<rect x="220.80" y="224.50" width="3.45" height="3.45" fill="#f28c8c"/>
<rect x="224.20" y="224.50" width="3.45" height="3.45" fill="#cc1212"/>
<rect x="227.60" y="224.50" width="3.45" height="3.45" fill="#2a0aaa"/>
<rect x="231.00" y="224.50" width="3.45" height="3.45" fill="#2a0aaa"/>
<rect x="234.40" y="224.50" width="3.45" height="3.45" fill="#3618bc"/>
<rect x="217.40" y="227.90" width="3.45" height="3.45" fill="#cc1212"/>
<rect x="220.80" y="227.90" width="3.45" height="3.45" fill="#cc1212"/>
<rect x="224.20" y="227.90" width="3.45" height="3.45" fill="#cc1212"/>
<rect x="227.60" y="227.90" width="3.45" height="3.45" fill="#c8c2f4"/>
<rect x="231.00" y="227.90" width="3.45" height="3.45" fill="#2a0aaa"/>
<rect x="234.40" y="227.90" width="3.45" height="3.45" fill="#a49cec"/>
<rect x="217.40" y="231.30" width="3.45" height="3.45" fill="#cc1212"/>
<rect x="220.80" y="231.30" width="3.45" height="3.45" fill="#f28c8c"/>
<rect x="224.20" y="231.30" width="3.45" height="3.45" fill="#ee6a6a"/>
<rect x="227.60" y="231.30" width="3.45" height="3.45" fill="#8478e4"/>
<rect x="231.00" y="231.30" width="3.45" height="3.45" fill="#2a0aaa"/>
<rect x="234.40" y="231.30" width="3.45" height="3.45" fill="#2a0aaa"/>
<rect x="217.40" y="234.70" width="3.45" height="3.45" fill="#cc1212"/>
<rect x="220.80" y="234.70" width="3.45" height="3.45" fill="#cc1212"/>
<rect x="224.20" y="234.70" width="3.45" height="3.45" fill="#ee6a6a"/>
<rect x="227.60" y="234.70" width="3.45" height="3.45" fill="#c8c2f4"/>
<rect x="231.00" y="234.70" width="3.45" height="3.45" fill="#2a0aaa"/>
<rect x="234.40" y="234.70" width="3.45" height="3.45" fill="#2a0aaa"/>
<rect x="217.40" y="238.10" width="3.45" height="3.45" fill="#f6b0b8"/>
<rect x="220.80" y="238.10" width="3.45" height="3.45" fill="#dc2626"/>
<rect x="224.20" y="238.10" width="3.45" height="3.45" fill="#cc1212"/>
<rect x="227.60" y="238.10" width="3.45" height="3.45" fill="#8478e4"/>
<rect x="231.00" y="238.10" width="3.45" height="3.45" fill="#2a0aaa"/>
<rect x="234.40" y="238.10" width="3.45" height="3.45" fill="#f4b0b8"/>
<rect x="217.40" y="241.50" width="3.45" height="3.45" fill="#f28c8c"/>
<rect x="220.80" y="241.50" width="3.45" height="3.45" fill="#f28c8c"/>
<rect x="224.20" y="241.50" width="3.45" height="3.45" fill="#cc1212"/>
<rect x="227.60" y="241.50" width="3.45" height="3.45" fill="#2a0aaa"/>
<rect x="231.00" y="241.50" width="3.45" height="3.45" fill="#2a0aaa"/>
<rect x="234.40" y="241.50" width="3.45" height="3.45" fill="#8478e4"/>
<rect x="217.40" y="244.90" width="3.45" height="3.45" fill="#fad4dc"/>
<rect x="220.80" y="244.90" width="3.45" height="3.45" fill="#ee6a6a"/>
<rect x="224.20" y="244.90" width="3.45" height="3.45" fill="#dc2626"/>
<rect x="227.60" y="244.90" width="3.45" height="3.45" fill="#3618bc"/>
<rect x="231.00" y="244.90" width="3.45" height="3.45" fill="#2a0aaa"/>
<rect x="234.40" y="244.90" width="3.45" height="3.45" fill="#2a0aaa"/>
<rect x="217.40" y="248.30" width="3.45" height="3.45" fill="#cc1212"/>
<rect x="220.80" y="248.30" width="3.45" height="3.45" fill="#5a4cd8"/>
<rect x="224.20" y="248.30" width="3.45" height="3.45" fill="#f28c8c"/>
<rect x="227.60" y="248.30" width="3.45" height="3.45" fill="#e4e0fa"/>
<rect x="231.00" y="248.30" width="3.45" height="3.45" fill="#3618bc"/>
<rect x="234.40" y="248.30" width="3.45" height="3.45" fill="#3618bc"/>
<line x1="239.5" y1="34.10" x2="264" y2="34.10" stroke="#b4b4b4" stroke-width="0.5"/>
<text x="239.8" y="33.60" font-size="3.4" text-anchor="start" font-weight="bold" fill="#5a5a5a" stroke="#5a5a5a" stroke-width="0.00" >ABCE1</text>
<line x1="239.5" y1="37.50" x2="264" y2="37.50" stroke="#b4b4b4" stroke-width="0.5"/>
<text x="239.8" y="37.00" font-size="3.4" text-anchor="start" font-weight="bold" fill="#5a5a5a" stroke="#5a5a5a" stroke-width="0.00" >ACP1</text>
<line x1="239.5" y1="40.90" x2="264" y2="40.90" stroke="#b4b4b4" stroke-width="0.5"/>
<text x="239.8" y="40.40" font-size="3.4" text-anchor="start" font-weight="bold" fill="#5a5a5a" stroke="#5a5a5a" stroke-width="0.00" >AIMP2</text>
<line x1="239.5" y1="44.30" x2="264" y2="44.30" stroke="#b4b4b4" stroke-width="0.5"/>
<text x="239.8" y="43.80" font-size="3.4" text-anchor="start" font-weight="bold" fill="#5a5a5a" stroke="#5a5a5a" stroke-width="0.00" >AP3S1</text>
<line x1="239.5" y1="47.70" x2="264" y2="47.70" stroke="#b4b4b4" stroke-width="0.5"/>
<text x="239.8" y="47.20" font-size="3.4" text-anchor="start" font-weight="bold" fill="#5a5a5a" stroke="#5a5a5a" stroke-width="0.00" >APEX1</text>
<line x1="239.5" y1="51.10" x2="264" y2="51.10" stroke="#b4b4b4" stroke-width="0.5"/>
<text x="239.8" y="50.60" font-size="3.4" text-anchor="start" font-weight="bold" fill="#5a5a5a" stroke="#5a5a5a" stroke-width="0.00" >BUB3</text>
<line x1="239.5" y1="54.50" x2="264" y2="54.50" stroke="#b4b4b4" stroke-width="0.5"/>
<text x="239.8" y="54.00" font-size="3.4" text-anchor="start" font-weight="bold" fill="#5a5a5a" stroke="#5a5a5a" stroke-width="0.00" >C1QBP</text>
<line x1="239.5" y1="57.90" x2="264" y2="57.90" stroke="#b4b4b4" stroke-width="0.5"/>
<text x="239.8" y="57.40" font-size="3.4" text-anchor="start" font-weight="bold" fill="#5a5a5a" stroke="#5a5a5a" stroke-width="0.00" >CAD</text>
<line x1="239.5" y1="61.30" x2="264" y2="61.30" stroke="#b4b4b4" stroke-width="0.5"/>
<text x="239.8" y="60.80" font-size="3.4" text-anchor="start" font-weight="bold" fill="#5a5a5a" stroke="#5a5a5a" stroke-width="0.00" >CANX</text>
<line x1="239.5" y1="64.70" x2="264" y2="64.70" stroke="#b4b4b4" stroke-width="0.5"/>
<text x="239.8" y="64.20" font-size="3.4" text-anchor="start" font-weight="bold" fill="#5a5a5a" stroke="#5a5a5a" stroke-width="0.00" >CBX3</text>
<line x1="239.5" y1="68.10" x2="264" y2="68.10" stroke="#b4b4b4" stroke-width="0.5"/>
<text x="239.8" y="67.60" font-size="3.4" text-anchor="start" font-weight="bold" fill="#5a5a5a" stroke="#5a5a5a" stroke-width="0.00" >CCNA2</text>
<line x1="239.5" y1="71.50" x2="264" y2="71.50" stroke="#b4b4b4" stroke-width="0.5"/>
<text x="239.8" y="71.00" font-size="3.4" text-anchor="start" font-weight="bold" fill="#5a5a5a" stroke="#5a5a5a" stroke-width="0.00" >CCT2</text>
<line x1="239.5" y1="74.90" x2="264" y2="74.90" stroke="#b4b4b4" stroke-width="0.5"/>
<text x="239.8" y="74.40" font-size="3.4" text-anchor="start" font-weight="bold" fill="#5a5a5a" stroke="#5a5a5a" stroke-width="0.00" >CCT3</text>
<line x1="239.5" y1="78.30" x2="264" y2="78.30" stroke="#b4b4b4" stroke-width="0.5"/>
<text x="239.8" y="77.80" font-size="3.4" text-anchor="start" font-weight="bold" fill="#5a5a5a" stroke="#5a5a5a" stroke-width="0.00" >CCT4</text>
<line x1="239.5" y1="81.70" x2="264" y2="81.70" stroke="#b4b4b4" stroke-width="0.5"/>
<text x="239.8" y="81.20" font-size="3.4" text-anchor="start" font-weight="bold" fill="#5a5a5a" stroke="#5a5a5a" stroke-width="0.00" >CCT5</text>
<line x1="239.5" y1="85.10" x2="264" y2="85.10" stroke="#b4b4b4" stroke-width="0.5"/>
<text x="239.8" y="84.60" font-size="3.4" text-anchor="start" font-weight="bold" fill="#5a5a5a" stroke="#5a5a5a" stroke-width="0.00" >CCT7</text>
<line x1="239.5" y1="88.50" x2="264" y2="88.50" stroke="#b4b4b4" stroke-width="0.5"/>
<text x="239.8" y="88.00" font-size="3.4" text-anchor="start" font-weight="bold" fill="#5a5a5a" stroke="#5a5a5a" stroke-width="0.00" >CDC20</text>
<line x1="239.5" y1="91.90" x2="264" y2="91.90" stroke="#b4b4b4" stroke-width="0.5"/>
<text x="239.8" y="91.40" font-size="3.4" text-anchor="start" font-weight="bold" fill="#5a5a5a" stroke="#5a5a5a" stroke-width="0.00" >CDC45</text>
<line x1="239.5" y1="95.30" x2="264" y2="95.30" stroke="#b4b4b4" stroke-width="0.5"/>
<text x="239.8" y="94.80" font-size="3.4" text-anchor="start" font-weight="bold" fill="#5a5a5a" stroke="#5a5a5a" stroke-width="0.00" >CDK2</text>
<line x1="239.5" y1="98.70" x2="264" y2="98.70" stroke="#b4b4b4" stroke-width="0.5"/>
<text x="239.8" y="98.20" font-size="3.4" text-anchor="start" font-weight="bold" fill="#5a5a5a" stroke="#5a5a5a" stroke-width="0.00" >CDK4</text>
<line x1="239.5" y1="102.10" x2="264" y2="102.10" stroke="#b4b4b4" stroke-width="0.5"/>
<text x="239.8" y="101.60" font-size="3.4" text-anchor="start" font-weight="bold" fill="#5a5a5a" stroke="#5a5a5a" stroke-width="0.00" >CLNS1A</text>
<line x1="239.5" y1="105.50" x2="264" y2="105.50" stroke="#b4b4b4" stroke-width="0.5"/>
<text x="239.8" y="105.00" font-size="3.4" text-anchor="start" font-weight="bold" fill="#5a5a5a" stroke="#5a5a5a" stroke-width="0.00" >CNBP</text>
<line x1="239.5" y1="108.90" x2="264" y2="108.90" stroke="#b4b4b4" stroke-width="0.5"/>
<text x="239.8" y="108.40" font-size="3.4" text-anchor="start" font-weight="bold" fill="#5a5a5a" stroke="#5a5a5a" stroke-width="0.00" >COX5A</text>
<line x1="239.5" y1="112.30" x2="264" y2="112.30" stroke="#b4b4b4" stroke-width="0.5"/>
<text x="239.8" y="111.80" font-size="3.4" text-anchor="start" font-weight="bold" fill="#5a5a5a" stroke="#5a5a5a" stroke-width="0.00" >CSTF2</text>
<line x1="239.5" y1="115.70" x2="264" y2="115.70" stroke="#b4b4b4" stroke-width="0.5"/>
<text x="239.8" y="115.20" font-size="3.4" text-anchor="start" font-weight="bold" fill="#5a5a5a" stroke="#5a5a5a" stroke-width="0.00" >CTPS1</text>
<line x1="239.5" y1="119.10" x2="264" y2="119.10" stroke="#b4b4b4" stroke-width="0.5"/>
<text x="239.8" y="118.60" font-size="3.4" text-anchor="start" font-weight="bold" fill="#5a5a5a" stroke="#5a5a5a" stroke-width="0.00" >CUL1</text>
<line x1="239.5" y1="122.50" x2="264" y2="122.50" stroke="#b4b4b4" stroke-width="0.5"/>
<text x="239.8" y="122.00" font-size="3.4" text-anchor="start" font-weight="bold" fill="#5a5a5a" stroke="#5a5a5a" stroke-width="0.00" >CYC1</text>
<line x1="239.5" y1="125.90" x2="264" y2="125.90" stroke="#b4b4b4" stroke-width="0.5"/>
<text x="239.8" y="125.40" font-size="3.4" text-anchor="start" font-weight="bold" fill="#5a5a5a" stroke="#5a5a5a" stroke-width="0.00" >DDX18</text>
<line x1="239.5" y1="129.30" x2="264" y2="129.30" stroke="#b4b4b4" stroke-width="0.5"/>
<text x="239.8" y="128.80" font-size="3.4" text-anchor="start" font-weight="bold" fill="#5a5a5a" stroke="#5a5a5a" stroke-width="0.00" >DDX21</text>
<line x1="239.5" y1="132.70" x2="264" y2="132.70" stroke="#b4b4b4" stroke-width="0.5"/>
<text x="239.8" y="132.20" font-size="3.4" text-anchor="start" font-weight="bold" fill="#5a5a5a" stroke="#5a5a5a" stroke-width="0.00" >DHX15</text>
<line x1="239.5" y1="136.10" x2="264" y2="136.10" stroke="#b4b4b4" stroke-width="0.5"/>
<text x="239.8" y="135.60" font-size="3.4" text-anchor="start" font-weight="bold" fill="#5a5a5a" stroke="#5a5a5a" stroke-width="0.00" >DUT</text>
<line x1="239.5" y1="139.50" x2="264" y2="139.50" stroke="#b4b4b4" stroke-width="0.5"/>
<text x="239.8" y="139.00" font-size="3.4" text-anchor="start" font-weight="bold" fill="#5a5a5a" stroke="#5a5a5a" stroke-width="0.00" >EEF1B2</text>
<line x1="239.5" y1="142.90" x2="264" y2="142.90" stroke="#b4b4b4" stroke-width="0.5"/>
<text x="239.8" y="142.40" font-size="3.4" text-anchor="start" font-weight="bold" fill="#5a5a5a" stroke="#5a5a5a" stroke-width="0.00" >EIF1AX</text>
<line x1="239.5" y1="146.30" x2="264" y2="146.30" stroke="#b4b4b4" stroke-width="0.5"/>
<text x="239.8" y="145.80" font-size="3.4" text-anchor="start" font-weight="bold" fill="#5a5a5a" stroke="#5a5a5a" stroke-width="0.00" >EIF2S1</text>
<line x1="239.5" y1="149.70" x2="264" y2="149.70" stroke="#b4b4b4" stroke-width="0.5"/>
<text x="239.8" y="149.20" font-size="3.4" text-anchor="start" font-weight="bold" fill="#5a5a5a" stroke="#5a5a5a" stroke-width="0.00" >EIF3B</text>
<line x1="239.5" y1="153.10" x2="264" y2="153.10" stroke="#b4b4b4" stroke-width="0.5"/>
<text x="239.8" y="152.60" font-size="3.4" text-anchor="start" font-weight="bold" fill="#5a5a5a" stroke="#5a5a5a" stroke-width="0.00" >EIF4A1</text>
<line x1="239.5" y1="156.50" x2="264" y2="156.50" stroke="#b4b4b4" stroke-width="0.5"/>
<text x="239.8" y="156.00" font-size="3.4" text-anchor="start" font-weight="bold" fill="#5a5a5a" stroke="#5a5a5a" stroke-width="0.00" >ERH</text>
<line x1="239.5" y1="159.90" x2="264" y2="159.90" stroke="#b4b4b4" stroke-width="0.5"/>
<text x="239.8" y="159.40" font-size="3.4" text-anchor="start" font-weight="bold" fill="#5a5a5a" stroke="#5a5a5a" stroke-width="0.00" >ETF1</text>
<line x1="239.5" y1="163.30" x2="264" y2="163.30" stroke="#b4b4b4" stroke-width="0.5"/>
<text x="239.8" y="162.80" font-size="3.4" text-anchor="start" font-weight="bold" fill="#5a5a5a" stroke="#5a5a5a" stroke-width="0.00" >FBL</text>
<line x1="239.5" y1="166.70" x2="264" y2="166.70" stroke="#b4b4b4" stroke-width="0.5"/>
<text x="239.8" y="166.20" font-size="3.4" text-anchor="start" font-weight="bold" fill="#5a5a5a" stroke="#5a5a5a" stroke-width="0.00" >GLO1</text>
<line x1="239.5" y1="170.10" x2="264" y2="170.10" stroke="#b4b4b4" stroke-width="0.5"/>
<text x="239.8" y="169.60" font-size="3.4" text-anchor="start" font-weight="bold" fill="#5a5a5a" stroke="#5a5a5a" stroke-width="0.00" >GNL3</text>
<line x1="239.5" y1="173.50" x2="264" y2="173.50" stroke="#b4b4b4" stroke-width="0.5"/>
<text x="239.8" y="173.00" font-size="3.4" text-anchor="start" font-weight="bold" fill="#5a5a5a" stroke="#5a5a5a" stroke-width="0.00" >GSPT1</text>
<line x1="239.5" y1="176.90" x2="264" y2="176.90" stroke="#b4b4b4" stroke-width="0.5"/>
<text x="239.8" y="176.40" font-size="3.4" text-anchor="start" font-weight="bold" fill="#5a5a5a" stroke="#5a5a5a" stroke-width="0.00" >HDAC2</text>
<line x1="239.5" y1="180.30" x2="264" y2="180.30" stroke="#b4b4b4" stroke-width="0.5"/>
<text x="239.8" y="179.80" font-size="3.4" text-anchor="start" font-weight="bold" fill="#5a5a5a" stroke="#5a5a5a" stroke-width="0.00" >HNRNPA1</text>
<line x1="239.5" y1="183.70" x2="264" y2="183.70" stroke="#b4b4b4" stroke-width="0.5"/>
<text x="239.8" y="183.20" font-size="3.4" text-anchor="start" font-weight="bold" fill="#5a5a5a" stroke="#5a5a5a" stroke-width="0.00" >HPRT1</text>
<line x1="239.5" y1="187.10" x2="264" y2="187.10" stroke="#b4b4b4" stroke-width="0.5"/>
<text x="239.8" y="186.60" font-size="3.4" text-anchor="start" font-weight="bold" fill="#5a5a5a" stroke="#5a5a5a" stroke-width="0.00" >IARS</text>
<line x1="239.5" y1="190.50" x2="264" y2="190.50" stroke="#b4b4b4" stroke-width="0.5"/>
<text x="239.8" y="190.00" font-size="3.4" text-anchor="start" font-weight="bold" fill="#5a5a5a" stroke="#5a5a5a" stroke-width="0.00" >ILF2</text>
<line x1="239.5" y1="193.90" x2="264" y2="193.90" stroke="#b4b4b4" stroke-width="0.5"/>
<text x="239.8" y="193.40" font-size="3.4" text-anchor="start" font-weight="bold" fill="#5a5a5a" stroke="#5a5a5a" stroke-width="0.00" >KPNA2</text>
<line x1="239.5" y1="197.30" x2="264" y2="197.30" stroke="#b4b4b4" stroke-width="0.5"/>
<text x="239.8" y="196.80" font-size="3.4" text-anchor="start" font-weight="bold" fill="#5a5a5a" stroke="#5a5a5a" stroke-width="0.00" >LDHA</text>
<line x1="239.5" y1="200.70" x2="264" y2="200.70" stroke="#b4b4b4" stroke-width="0.5"/>
<text x="239.8" y="200.20" font-size="3.4" text-anchor="start" font-weight="bold" fill="#5a5a5a" stroke="#5a5a5a" stroke-width="0.00" >MCM2</text>
<line x1="239.5" y1="204.10" x2="264" y2="204.10" stroke="#b4b4b4" stroke-width="0.5"/>
<text x="239.8" y="203.60" font-size="3.4" text-anchor="start" font-weight="bold" fill="#5a5a5a" stroke="#5a5a5a" stroke-width="0.00" >MCM4</text>
<line x1="239.5" y1="207.50" x2="264" y2="207.50" stroke="#b4b4b4" stroke-width="0.5"/>
<text x="239.8" y="207.00" font-size="3.4" text-anchor="start" font-weight="bold" fill="#5a5a5a" stroke="#5a5a5a" stroke-width="0.00" >MCM5</text>
<line x1="239.5" y1="210.90" x2="264" y2="210.90" stroke="#b4b4b4" stroke-width="0.5"/>
<text x="239.8" y="210.40" font-size="3.4" text-anchor="start" font-weight="bold" fill="#5a5a5a" stroke="#5a5a5a" stroke-width="0.00" >MCM7</text>
<line x1="239.5" y1="214.30" x2="264" y2="214.30" stroke="#b4b4b4" stroke-width="0.5"/>
<text x="239.8" y="213.80" font-size="3.4" text-anchor="start" font-weight="bold" fill="#5a5a5a" stroke="#5a5a5a" stroke-width="0.00" >MRPL9</text>
<line x1="239.5" y1="217.70" x2="264" y2="217.70" stroke="#b4b4b4" stroke-width="0.5"/>
<text x="239.8" y="217.20" font-size="3.4" text-anchor="start" font-weight="bold" fill="#5a5a5a" stroke="#5a5a5a" stroke-width="0.00" >MYC</text>
<line x1="239.5" y1="221.10" x2="264" y2="221.10" stroke="#b4b4b4" stroke-width="0.5"/>
<text x="239.8" y="220.60" font-size="3.4" text-anchor="start" font-weight="bold" fill="#5a5a5a" stroke="#5a5a5a" stroke-width="0.00" >NCL</text>
<line x1="239.5" y1="224.50" x2="264" y2="224.50" stroke="#b4b4b4" stroke-width="0.5"/>
<text x="239.8" y="224.00" font-size="3.4" text-anchor="start" font-weight="bold" fill="#5a5a5a" stroke="#5a5a5a" stroke-width="0.00" >NME1</text>
<line x1="239.5" y1="227.90" x2="264" y2="227.90" stroke="#b4b4b4" stroke-width="0.5"/>
<text x="239.8" y="227.40" font-size="3.4" text-anchor="start" font-weight="bold" fill="#5a5a5a" stroke="#5a5a5a" stroke-width="0.00" >NOLC1</text>
<line x1="239.5" y1="231.30" x2="264" y2="231.30" stroke="#b4b4b4" stroke-width="0.5"/>
<text x="239.8" y="230.80" font-size="3.4" text-anchor="start" font-weight="bold" fill="#5a5a5a" stroke="#5a5a5a" stroke-width="0.00" >NOP16</text>
<line x1="239.5" y1="234.70" x2="264" y2="234.70" stroke="#b4b4b4" stroke-width="0.5"/>
<text x="239.8" y="234.20" font-size="3.4" text-anchor="start" font-weight="bold" fill="#5a5a5a" stroke="#5a5a5a" stroke-width="0.00" >NPM1</text>
<line x1="239.5" y1="238.10" x2="264" y2="238.10" stroke="#b4b4b4" stroke-width="0.5"/>
<text x="239.8" y="237.60" font-size="3.4" text-anchor="start" font-weight="bold" fill="#5a5a5a" stroke="#5a5a5a" stroke-width="0.00" >ODC1</text>
<line x1="239.5" y1="241.50" x2="264" y2="241.50" stroke="#b4b4b4" stroke-width="0.5"/>
<text x="239.8" y="241.00" font-size="3.4" text-anchor="start" font-weight="bold" fill="#5a5a5a" stroke="#5a5a5a" stroke-width="0.00" >PA2G4</text>
<line x1="239.5" y1="244.90" x2="264" y2="244.90" stroke="#b4b4b4" stroke-width="0.5"/>
<text x="239.8" y="244.40" font-size="3.4" text-anchor="start" font-weight="bold" fill="#5a5a5a" stroke="#5a5a5a" stroke-width="0.00" >PABPC1</text>
<line x1="239.5" y1="248.30" x2="264" y2="248.30" stroke="#b4b4b4" stroke-width="0.5"/>
<text x="239.8" y="247.80" font-size="3.4" text-anchor="start" font-weight="bold" fill="#5a5a5a" stroke="#5a5a5a" stroke-width="0.00" >PCNA</text>
<line x1="239.5" y1="251.70" x2="264" y2="251.70" stroke="#b4b4b4" stroke-width="0.5"/>
<text x="239.8" y="251.20" font-size="3.4" text-anchor="start" font-weight="bold" fill="#5a5a5a" stroke="#5a5a5a" stroke-width="0.00" >PHB</text>
<line x1="217.4" y1="30.5" x2="264" y2="30.5" stroke="#666" stroke-width="0.6" stroke-dasharray="1,0.8"/>
<text transform="translate(225.4,29.0) rotate(-90)" font-size="8.5" text-anchor="start" fill="#000" stroke="#000" stroke-width="0.22">DMSO</text>
<text transform="translate(235.9,29.0) rotate(-90)" font-size="8.4" text-anchor="start" fill="#000" stroke="#000" stroke-width="0.22">NSC12</text>
<text x="253.3" y="16.5" font-size="8.6" text-anchor="middle" fill="#000" stroke="#000" stroke-width="0.22" >Myc</text>
<text x="253.3" y="26.3" font-size="8.6" text-anchor="middle" fill="#000" stroke="#000" stroke-width="0.22" >targets</text>
<defs><filter id="bl" x="-30%" y="-60%" width="160%" height="220%"><feGaussianBlur stdDeviation="0.9"/></filter><filter id="bl2" x="-30%" y="-60%" width="160%" height="220%"><feGaussianBlur stdDeviation="1.5"/></filter></defs>
<defs><linearGradient id="gs" x1="0" y1="0" x2="0" y2="1"><stop offset="0" stop-color="#000" stop-opacity="0.15"/><stop offset="1" stop-color="#000" stop-opacity="1"/></linearGradient></defs>
<text x="326.9" y="13.4" font-size="8.17" text-anchor="start" fill="#111" stroke="#111" stroke-width="0.22" >3 Hours</text>
<text x="373.7" y="13.4" font-size="8.17" text-anchor="start" fill="#111" stroke="#111" stroke-width="0.22" >6 Hours</text>
<text x="417.5" y="13.4" font-size="8.17" text-anchor="start" fill="#111" stroke="#111" stroke-width="0.22" >12 Hours</text>
<line x1="322.7" y1="22.2" x2="359.2" y2="22.2" stroke="#666" stroke-width="1.1" stroke-dasharray="1,0.7"/>
<line x1="370.6" y1="22.2" x2="406.5" y2="22.2" stroke="#666" stroke-width="1.1" stroke-dasharray="1,0.7"/>
<line x1="416.7" y1="22.2" x2="453" y2="22.2" stroke="#666" stroke-width="1.1" stroke-dasharray="1,0.7"/>
<text transform="translate(335.90000000000003,52.7) rotate(-90)" font-size="8.5" text-anchor="start" fill="#111" stroke="#111" stroke-width="0.22">DMSO</text>
<text transform="translate(358.7,52.7) rotate(-90)" font-size="8.5" text-anchor="start" fill="#111" stroke="#111" stroke-width="0.22">NSC12</text>
<text transform="translate(378.70000000000005,52.7) rotate(-90)" font-size="8.5" text-anchor="start" fill="#111" stroke="#111" stroke-width="0.22">DMSO</text>
<text transform="translate(401.5,52.7) rotate(-90)" font-size="8.5" text-anchor="start" fill="#111" stroke="#111" stroke-width="0.22">NSC12</text>
<text transform="translate(421.3,52.7) rotate(-90)" font-size="8.5" text-anchor="start" fill="#111" stroke="#111" stroke-width="0.22">DMSO</text>
<text transform="translate(445.0,52.7) rotate(-90)" font-size="8.5" text-anchor="start" fill="#111" stroke="#111" stroke-width="0.22">NSC12</text>
<path d="M318.5,56.5 L314.5,56.5 L314.5,158.0 L318.5,158.0 M314.5,107.5 L309.8,107.5" fill="none" stroke="#333" stroke-width="0.9"/>
<text transform="translate(303.5,106.3) rotate(-90)" font-size="9.3" text-anchor="middle" font-style="italic" fill="#111" stroke="#111" stroke-width="0.22">In vitro</text>
<rect x="323" y="55.4" width="129.50" height="22.80" fill="#fff" stroke="#444" stroke-width="0.9"/>
<rect x="323" y="81.2" width="129.50" height="23.40" fill="#fff" stroke="#444" stroke-width="0.9"/>
<rect x="323" y="108.5" width="129.50" height="22.90" fill="#fff" stroke="#444" stroke-width="0.9"/>
<rect x="323" y="134.9" width="129.50" height="22.60" fill="#fff" stroke="#444" stroke-width="0.9"/>
<rect x="327.30" y="57.00" width="14.00" height="20.00" rx="2" fill="#000" fill-opacity="0.12" filter="url(#bl2)"/>
<rect x="326.80" y="62.10" width="15.00" height="3.40" rx="3.75" ry="1.70" fill="#000" fill-opacity="1.0" filter="url(#bl)"/>
<rect x="327.05" y="66.50" width="14.50" height="2.60" rx="3.62" ry="1.30" fill="#000" fill-opacity="0.45" filter="url(#bl)"/>
<rect x="327.05" y="69.90" width="14.50" height="2.60" rx="3.62" ry="1.30" fill="#000" fill-opacity="0.42" filter="url(#bl)"/>
<rect x="327.05" y="73.20" width="14.50" height="2.80" rx="3.62" ry="1.40" fill="#000" fill-opacity="0.48" filter="url(#bl)"/>
<rect x="348.95" y="58.00" width="13.50" height="19.00" rx="2" fill="#000" fill-opacity="0.08" filter="url(#bl2)"/>
<rect x="348.95" y="62.30" width="13.50" height="2.40" rx="3.38" ry="1.20" fill="#000" fill-opacity="0.14" filter="url(#bl)"/>
<rect x="348.95" y="67.30" width="13.50" height="2.40" rx="3.38" ry="1.20" fill="#000" fill-opacity="0.08" filter="url(#bl)"/>
<rect x="348.95" y="71.80" width="13.50" height="2.40" rx="3.38" ry="1.20" fill="#000" fill-opacity="0.08" filter="url(#bl)"/>
<rect x="370.10" y="57.00" width="14.00" height="20.00" rx="2" fill="#000" fill-opacity="0.14" filter="url(#bl2)"/>
<rect x="369.35" y="61.70" width="15.50" height="3.60" rx="3.88" ry="1.80" fill="#000" fill-opacity="1.0" filter="url(#bl)"/>
<rect x="369.60" y="66.50" width="15.00" height="2.60" rx="3.75" ry="1.30" fill="#000" fill-opacity="0.5" filter="url(#bl)"/>
<rect x="369.60" y="69.90" width="15.00" height="2.60" rx="3.75" ry="1.30" fill="#000" fill-opacity="0.45" filter="url(#bl)"/>
<rect x="369.60" y="73.20" width="15.00" height="2.80" rx="3.75" ry="1.40" fill="#000" fill-opacity="0.5" filter="url(#bl)"/>
<rect x="392.00" y="60.00" width="13.00" height="16.00" rx="2" fill="#000" fill-opacity="0.04" filter="url(#bl2)"/>
<rect x="392.50" y="67.00" width="12.00" height="2.00" rx="3.00" ry="1.00" fill="#000" fill-opacity="0.04" filter="url(#bl)"/>
<rect x="411.95" y="57.50" width="15.50" height="20.30" rx="2" fill="#000" fill-opacity="0.6" filter="url(#bl2)"/>
<rect x="411.70" y="58.50" width="16.00" height="4.00" rx="4.00" ry="2.00" fill="#000" fill-opacity="1.0" filter="url(#bl)"/>
<rect x="411.70" y="63.30" width="16.00" height="2.40" rx="4.00" ry="1.20" fill="#000" fill-opacity="0.8" filter="url(#bl)"/>
<rect x="411.70" y="66.60" width="16.00" height="3.20" rx="4.00" ry="1.60" fill="#000" fill-opacity="1.0" filter="url(#bl)"/>
<rect x="411.70" y="70.90" width="16.00" height="3.20" rx="4.00" ry="1.60" fill="#000" fill-opacity="1.0" filter="url(#bl)"/>
<rect x="411.70" y="74.80" width="16.00" height="2.40" rx="4.00" ry="1.20" fill="#000" fill-opacity="0.85" filter="url(#bl)"/>
<rect x="435.50" y="60.00" width="13.00" height="16.00" rx="2" fill="#000" fill-opacity="0.07" filter="url(#bl2)"/>
<rect x="436.00" y="65.00" width="12.00" height="2.00" rx="3.00" ry="1.00" fill="#000" fill-opacity="0.08" filter="url(#bl)"/>
<rect x="436.00" y="70.00" width="12.00" height="2.00" rx="3.00" ry="1.00" fill="#000" fill-opacity="0.08" filter="url(#bl)"/>
<rect x="328.30" y="89.20" width="12.00" height="2.60" rx="3.00" ry="1.30" fill="#000" fill-opacity="0.55" filter="url(#bl)"/>
<rect x="328.30" y="95.20" width="12.00" height="2.60" rx="3.00" ry="1.30" fill="#000" fill-opacity="0.5" filter="url(#bl)"/>
<rect x="349.70" y="95.30" width="12.00" height="2.40" rx="3.00" ry="1.20" fill="#000" fill-opacity="0.18" filter="url(#bl)"/>
<rect x="349.70" y="89.50" width="12.00" height="2.00" rx="3.00" ry="1.00" fill="#000" fill-opacity="0.06" filter="url(#bl)"/>
<rect x="369.60" y="84.00" width="15.00" height="20.50" rx="2" fill="#000" fill-opacity="0.3" filter="url(#bl2)"/>
<rect x="370.10" y="92.00" width="14.00" height="12.50" rx="2" fill="#000" fill-opacity="0.25" filter="url(#bl2)"/>
<rect x="369.85" y="88.80" width="14.50" height="3.40" rx="3.62" ry="1.70" fill="#000" fill-opacity="0.95" filter="url(#bl)"/>
<rect x="369.85" y="94.40" width="14.50" height="3.80" rx="3.62" ry="1.90" fill="#000" fill-opacity="1.0" filter="url(#bl)"/>
<rect x="388.50" y="83.00" width="14.00" height="14.00" rx="2" fill="#000" fill-opacity="0.18" filter="url(#bl2)"/>
<rect x="388.50" y="88.00" width="14.00" height="11.00" rx="2" fill="#000" fill-opacity="0.2" filter="url(#bl2)"/>
<rect x="388.00" y="93.40" width="15.00" height="4.60" rx="3.75" ry="2.30" fill="#000" fill-opacity="1.0" filter="url(#bl)"/>
<rect x="409.70" y="86.00" width="14.00" height="14.00" rx="2" fill="#000" fill-opacity="0.2" filter="url(#bl2)"/>
<rect x="410.20" y="88.50" width="13.00" height="3.00" rx="3.25" ry="1.50" fill="#000" fill-opacity="0.85" filter="url(#bl)"/>
<rect x="410.20" y="94.20" width="13.00" height="3.00" rx="3.25" ry="1.50" fill="#000" fill-opacity="0.85" filter="url(#bl)"/>
<rect x="431.50" y="87.80" width="13.00" height="2.40" rx="3.25" ry="1.20" fill="#000" fill-opacity="0.2" filter="url(#bl)"/>
<rect x="431.50" y="93.30" width="13.00" height="2.40" rx="3.25" ry="1.20" fill="#000" fill-opacity="0.2" filter="url(#bl)"/>
<rect x="326.80" y="115.80" width="15.00" height="4.40" rx="3.75" ry="2.20" fill="#000" fill-opacity="0.88" filter="url(#bl)"/>
<rect x="326.55" y="120.00" width="15.50" height="5.20" rx="3.88" ry="2.60" fill="#000" fill-opacity="1.0" filter="url(#bl)"/>
<rect x="349.20" y="115.00" width="13.00" height="10.00" rx="2" fill="#000" fill-opacity="0.08" filter="url(#bl2)"/>
<rect x="369.60" y="115.80" width="15.00" height="4.40" rx="3.75" ry="2.20" fill="#000" fill-opacity="0.92" filter="url(#bl)"/>
<rect x="369.10" y="119.90" width="16.00" height="5.40" rx="4.00" ry="2.70" fill="#000" fill-opacity="1.0" filter="url(#bl)"/>
<rect x="392.00" y="115.00" width="13.00" height="10.00" rx="2" fill="#000" fill-opacity="0.04" filter="url(#bl2)"/>
<rect x="412.95" y="116.10" width="13.50" height="3.80" rx="3.38" ry="1.90" fill="#000" fill-opacity="0.82" filter="url(#bl)"/>
<rect x="412.70" y="120.50" width="14.00" height="4.40" rx="3.50" ry="2.20" fill="#000" fill-opacity="1.0" filter="url(#bl)"/>
<rect x="436.00" y="115.00" width="12.00" height="10.00" rx="2" fill="#000" fill-opacity="0.04" filter="url(#bl2)"/>
<rect x="326.05" y="143.60" width="16.50" height="5.00" rx="4.12" ry="2.50" fill="#000" fill-opacity="1.0" filter="url(#bl)"/>
<rect x="347.45" y="143.60" width="16.50" height="5.00" rx="4.12" ry="2.50" fill="#000" fill-opacity="1.0" filter="url(#bl)"/>
<rect x="368.85" y="143.60" width="16.50" height="5.00" rx="4.12" ry="2.50" fill="#000" fill-opacity="1.0" filter="url(#bl)"/>
<rect x="390.25" y="143.60" width="16.50" height="5.00" rx="4.12" ry="2.50" fill="#000" fill-opacity="1.0" filter="url(#bl)"/>
<rect x="411.45" y="143.60" width="16.50" height="5.00" rx="4.12" ry="2.50" fill="#000" fill-opacity="1.0" filter="url(#bl)"/>
<rect x="433.75" y="143.60" width="16.50" height="5.00" rx="4.12" ry="2.50" fill="#000" fill-opacity="1.0" filter="url(#bl)"/>
<text x="458.2" y="70.6" font-size="9.65" text-anchor="start" fill="#111" stroke="#111" stroke-width="0.22" >pFGFR3</text>
<text x="458.2" y="98" font-size="9.6" text-anchor="start" fill="#111" stroke="#111" stroke-width="0.22" >pGSK3α/β</text>
<text x="458.2" y="123.5" font-size="9.6" text-anchor="start" fill="#111" stroke="#111" stroke-width="0.22" >c-Myc</text>
<text x="458.2" y="150.5" font-size="9.6" text-anchor="start" fill="#111" stroke="#111" stroke-width="0.22" >β-Actin</text>
<text x="324.9" y="181.9" font-size="10" text-anchor="start" fill="#111" stroke="#111" stroke-width="0.22" >DMSO</text>
<text x="409" y="181.7" font-size="10" text-anchor="start" fill="#111" stroke="#111" stroke-width="0.22" >NSC12</text>
<line x1="303.8" y1="185.4" x2="378.9" y2="185.4" stroke="#444" stroke-width="0.9" stroke-dasharray="1,0.8"/>
<line x1="390.2" y1="185.4" x2="464.8" y2="185.4" stroke="#444" stroke-width="0.9" stroke-dasharray="1,0.8"/>
<path d="M295.7,189.5 L292.5,189.5 L292.5,261.5 L295.7,261.5 M292.5,226 L288.9,226" fill="none" stroke="#333" stroke-width="0.9"/>
<text transform="translate(281.5,225.3) rotate(-90)" font-size="9.3" text-anchor="middle" font-style="italic" fill="#111" stroke="#111" stroke-width="0.22">In vivo</text>
<rect x="299.5" y="190.5" width="169.40" height="20.80" fill="#fff" stroke="#444" stroke-width="0.9"/>
<rect x="299.5" y="215.6" width="169.40" height="20.00" fill="#fff" stroke="#444" stroke-width="0.9"/>
<rect x="299.5" y="239.8" width="169.40" height="19.70" fill="#fff" stroke="#444" stroke-width="0.9"/>
<rect x="305.40" y="192.50" width="13.00" height="4.50" rx="2" fill="#000" fill-opacity="0.2" filter="url(#bl2)"/>
<rect x="305.15" y="197.20" width="13.50" height="3.60" rx="3.38" ry="1.80" fill="#000" fill-opacity="0.95" filter="url(#bl)"/>
<rect x="304.90" y="202.70" width="14.00" height="4.20" rx="3.50" ry="2.10" fill="#000" fill-opacity="1.0" filter="url(#bl)"/>
<rect x="325.40" y="192.50" width="13.00" height="4.50" rx="2" fill="#000" fill-opacity="0.15" filter="url(#bl2)"/>
<rect x="325.15" y="197.20" width="13.50" height="3.60" rx="3.38" ry="1.80" fill="#000" fill-opacity="0.3" filter="url(#bl)"/>
<rect x="324.90" y="202.70" width="14.00" height="4.20" rx="3.50" ry="2.10" fill="#000" fill-opacity="0.6" filter="url(#bl)"/>
<rect x="346.30" y="192.50" width="13.00" height="4.50" rx="2" fill="#000" fill-opacity="0.15" filter="url(#bl2)"/>
<rect x="346.05" y="197.20" width="13.50" height="3.60" rx="3.38" ry="1.80" fill="#000" fill-opacity="0.5" filter="url(#bl)"/>
<rect x="345.80" y="202.70" width="14.00" height="4.20" rx="3.50" ry="2.10" fill="#000" fill-opacity="0.75" filter="url(#bl)"/>
<rect x="367.10" y="192.50" width="13.00" height="4.50" rx="2" fill="#000" fill-opacity="0.12" filter="url(#bl2)"/>
<rect x="366.85" y="197.20" width="13.50" height="3.60" rx="3.38" ry="1.80" fill="#000" fill-opacity="0.38" filter="url(#bl)"/>
<rect x="366.60" y="202.70" width="14.00" height="4.20" rx="3.50" ry="2.10" fill="#000" fill-opacity="0.6" filter="url(#bl)"/>
<rect x="388.50" y="192.50" width="13.00" height="4.50" rx="2" fill="#000" fill-opacity="0.1" filter="url(#bl2)"/>
<rect x="388.25" y="197.20" width="13.50" height="3.60" rx="3.38" ry="1.80" fill="#000" fill-opacity="0.18" filter="url(#bl)"/>
<rect x="388.00" y="202.70" width="14.00" height="4.20" rx="3.50" ry="2.10" fill="#000" fill-opacity="0.45" filter="url(#bl)"/>
<rect x="409.10" y="192.50" width="13.00" height="4.50" rx="2" fill="#000" fill-opacity="0.06" filter="url(#bl2)"/>
<rect x="408.85" y="197.20" width="13.50" height="3.60" rx="3.38" ry="1.80" fill="#000" fill-opacity="0.1" filter="url(#bl)"/>
<rect x="408.60" y="202.70" width="14.00" height="4.20" rx="3.50" ry="2.10" fill="#000" fill-opacity="0.3" filter="url(#bl)"/>
<rect x="430.10" y="192.50" width="13.00" height="4.50" rx="2" fill="#000" fill-opacity="0.03" filter="url(#bl2)"/>
<rect x="429.85" y="197.20" width="13.50" height="3.60" rx="3.38" ry="1.80" fill="#000" fill-opacity="0.05" filter="url(#bl)"/>
<rect x="429.60" y="202.70" width="14.00" height="4.20" rx="3.50" ry="2.10" fill="#000" fill-opacity="0.1" filter="url(#bl)"/>
<rect x="450.35" y="197.20" width="13.50" height="3.60" rx="3.38" ry="1.80" fill="#000" fill-opacity="0.02" filter="url(#bl)"/>
<rect x="450.10" y="202.70" width="14.00" height="4.20" rx="3.50" ry="2.10" fill="#000" fill-opacity="0.05" filter="url(#bl)"/>
<rect x="304.90" y="218.80" width="14.00" height="4.40" rx="3.50" ry="2.20" fill="#000" fill-opacity="0.95" filter="url(#bl)"/>
<rect x="305.15" y="223.90" width="13.50" height="3.80" rx="3.38" ry="1.90" fill="#000" fill-opacity="0.75" filter="url(#bl)"/>
<rect x="304.65" y="228.00" width="14.50" height="4.80" rx="3.62" ry="2.40" fill="#000" fill-opacity="1.0" filter="url(#bl)"/>
<rect x="324.90" y="218.80" width="14.00" height="4.40" rx="3.50" ry="2.20" fill="#000" fill-opacity="1.0" filter="url(#bl)"/>
<rect x="325.15" y="223.90" width="13.50" height="3.80" rx="3.38" ry="1.90" fill="#000" fill-opacity="0.6" filter="url(#bl)"/>
<rect x="324.65" y="228.00" width="14.50" height="4.80" rx="3.62" ry="2.40" fill="#000" fill-opacity="0.9" filter="url(#bl)"/>
<rect x="345.80" y="218.80" width="14.00" height="4.40" rx="3.50" ry="2.20" fill="#000" fill-opacity="0.65" filter="url(#bl)"/>
<rect x="346.05" y="223.90" width="13.50" height="3.80" rx="3.38" ry="1.90" fill="#000" fill-opacity="0.5" filter="url(#bl)"/>
<rect x="345.55" y="228.00" width="14.50" height="4.80" rx="3.62" ry="2.40" fill="#000" fill-opacity="0.85" filter="url(#bl)"/>
<rect x="366.60" y="218.80" width="14.00" height="4.40" rx="3.50" ry="2.20" fill="#000" fill-opacity="1.0" filter="url(#bl)"/>
<rect x="366.85" y="223.90" width="13.50" height="3.80" rx="3.38" ry="1.90" fill="#000" fill-opacity="0.6" filter="url(#bl)"/>
<rect x="366.35" y="228.00" width="14.50" height="4.80" rx="3.62" ry="2.40" fill="#000" fill-opacity="0.9" filter="url(#bl)"/>
<rect x="388.00" y="218.80" width="14.00" height="4.40" rx="3.50" ry="2.20" fill="#000" fill-opacity="0.22" filter="url(#bl)"/>
<rect x="388.25" y="223.90" width="13.50" height="3.80" rx="3.38" ry="1.90" fill="#000" fill-opacity="0.15" filter="url(#bl)"/>
<rect x="387.75" y="228.00" width="14.50" height="4.80" rx="3.62" ry="2.40" fill="#000" fill-opacity="0.45" filter="url(#bl)"/>
<rect x="408.60" y="218.80" width="14.00" height="4.40" rx="3.50" ry="2.20" fill="#000" fill-opacity="0.12" filter="url(#bl)"/>
<rect x="408.85" y="223.90" width="13.50" height="3.80" rx="3.38" ry="1.90" fill="#000" fill-opacity="0.1" filter="url(#bl)"/>
<rect x="408.35" y="228.00" width="14.50" height="4.80" rx="3.62" ry="2.40" fill="#000" fill-opacity="0.3" filter="url(#bl)"/>
<rect x="429.60" y="218.80" width="14.00" height="4.40" rx="3.50" ry="2.20" fill="#000" fill-opacity="1.0" filter="url(#bl)"/>
<rect x="429.85" y="223.90" width="13.50" height="3.80" rx="3.38" ry="1.90" fill="#000" fill-opacity="0.1" filter="url(#bl)"/>
<rect x="429.35" y="228.00" width="14.50" height="4.80" rx="3.62" ry="2.40" fill="#000" fill-opacity="0.25" filter="url(#bl)"/>
<rect x="450.10" y="218.80" width="14.00" height="4.40" rx="3.50" ry="2.20" fill="#000" fill-opacity="0.5" filter="url(#bl)"/>
<rect x="450.35" y="223.90" width="13.50" height="3.80" rx="3.38" ry="1.90" fill="#000" fill-opacity="0.1" filter="url(#bl)"/>
<rect x="449.85" y="228.00" width="14.50" height="4.80" rx="3.62" ry="2.40" fill="#000" fill-opacity="0.25" filter="url(#bl)"/>
<rect x="304.65" y="248.60" width="14.50" height="4.20" rx="3.62" ry="2.10" fill="#000" fill-opacity="1.0" filter="url(#bl)"/>
<rect x="324.65" y="248.60" width="14.50" height="4.20" rx="3.62" ry="2.10" fill="#000" fill-opacity="1.0" filter="url(#bl)"/>
<rect x="345.55" y="248.60" width="14.50" height="4.20" rx="3.62" ry="2.10" fill="#000" fill-opacity="1.0" filter="url(#bl)"/>
<rect x="366.35" y="248.60" width="14.50" height="4.20" rx="3.62" ry="2.10" fill="#000" fill-opacity="1.0" filter="url(#bl)"/>
<rect x="387.75" y="248.60" width="14.50" height="4.20" rx="3.62" ry="2.10" fill="#000" fill-opacity="1.0" filter="url(#bl)"/>
<rect x="408.35" y="248.60" width="14.50" height="4.20" rx="3.62" ry="2.10" fill="#000" fill-opacity="1.0" filter="url(#bl)"/>
<rect x="429.35" y="248.60" width="14.50" height="4.20" rx="3.62" ry="2.10" fill="#000" fill-opacity="1.0" filter="url(#bl)"/>
<rect x="449.85" y="248.60" width="14.50" height="4.20" rx="3.62" ry="2.10" fill="#000" fill-opacity="1.0" filter="url(#bl)"/>
<text x="472.9" y="202.7" font-size="9.5" text-anchor="start" fill="#111" stroke="#111" stroke-width="0.22" >pGSK3α/β</text>
<text x="472.9" y="228.3" font-size="9.5" text-anchor="start" fill="#111" stroke="#111" stroke-width="0.22" >c-Myc</text>
<text x="472.9" y="250.6" font-size="9.5" text-anchor="start" fill="#111" stroke="#111" stroke-width="0.22" >β-Actin</text>
<text x="62.4" y="279.00" font-size="10.5" text-anchor="middle" font-weight="bold" fill="#111" stroke="#111" stroke-width="0.7">−</text>
<text x="82.3" y="278.50" font-size="9" text-anchor="middle" font-weight="bold" fill="#111" stroke="#111" stroke-width="0.3">+</text>
<text x="103.4" y="279.00" font-size="10.5" text-anchor="middle" font-weight="bold" fill="#111" stroke="#111" stroke-width="0.7">−</text>
<text x="125" y="278.50" font-size="9" text-anchor="middle" font-weight="bold" fill="#111" stroke="#111" stroke-width="0.3">+</text>
<text x="62.4" y="292.10" font-size="10.5" text-anchor="middle" font-weight="bold" fill="#111" stroke="#111" stroke-width="0.7">−</text>
<text x="82.3" y="292.10" font-size="10.5" text-anchor="middle" font-weight="bold" fill="#111" stroke="#111" stroke-width="0.7">−</text>
<text x="103.4" y="291.60" font-size="9" text-anchor="middle" font-weight="bold" fill="#111" stroke="#111" stroke-width="0.3">+</text>
<text x="125" y="291.60" font-size="9" text-anchor="middle" font-weight="bold" fill="#111" stroke="#111" stroke-width="0.3">+</text>
<text x="142" y="278.8" font-size="9.3" text-anchor="start" fill="#111" stroke="#111" stroke-width="0.22" >NSC12_6 μmol/L</text>
<text x="142" y="293" font-size="9.3" text-anchor="start" fill="#111" stroke="#111" stroke-width="0.22" >MG132_10 μmol/L</text>
<rect x="51.2" y="298.5" width="88.00" height="25.90" fill="#fff" stroke="#444" stroke-width="0.9"/>
<rect x="51.2" y="327.7" width="88.00" height="25.40" fill="#fff" stroke="#444" stroke-width="0.9"/>
<rect x="55.30" y="302.00" width="14.00" height="10.00" rx="2" fill="url(#gs)" fill-opacity="0.3" filter="url(#bl2)"/>
<rect x="55.30" y="307.70" width="14.00" height="3.00" rx="3.50" ry="1.50" fill="#000" fill-opacity="0.3" filter="url(#bl)"/>
<rect x="55.00" y="312.00" width="10.00" height="5.00" rx="2.50" ry="2.50" fill="#000" fill-opacity="1.0" filter="url(#bl)"/>
<rect x="60.50" y="312.50" width="9.00" height="4.40" rx="2.25" ry="2.20" fill="#000" fill-opacity="0.85" filter="url(#bl)"/>
<rect x="78.40" y="305.00" width="12.00" height="13.00" rx="2" fill="#000" fill-opacity="0.05" filter="url(#bl2)"/>
<rect x="98.40" y="301.00" width="15.00" height="11.00" rx="2" fill="url(#gs)" fill-opacity="0.45" filter="url(#bl2)"/>
<rect x="97.90" y="310.70" width="16.00" height="6.20" rx="4.00" ry="3.10" fill="#000" fill-opacity="1.0" filter="url(#bl)"/>
<rect x="121.20" y="300.00" width="14.00" height="11.00" rx="2" fill="url(#gs)" fill-opacity="0.4" filter="url(#bl2)"/>
<rect x="120.45" y="309.80" width="15.50" height="5.40" rx="3.88" ry="2.70" fill="#000" fill-opacity="1.0" filter="url(#bl)"/>
<rect x="56.95" y="339.80" width="15.50" height="4.60" rx="3.88" ry="2.30" fill="#000" fill-opacity="1.0" filter="url(#bl)"/>
<rect x="77.25" y="339.80" width="15.50" height="4.60" rx="3.88" ry="2.30" fill="#000" fill-opacity="1.0" filter="url(#bl)"/>
<rect x="97.65" y="339.20" width="15.50" height="4.60" rx="3.88" ry="2.30" fill="#000" fill-opacity="1.0" filter="url(#bl)"/>
<rect x="118.65" y="338.30" width="15.50" height="4.60" rx="3.88" ry="2.30" fill="#000" fill-opacity="1.0" filter="url(#bl)"/>
<text x="142.5" y="315" font-size="9.5" text-anchor="start" fill="#111" stroke="#111" stroke-width="0.22" >c-Myc</text>
<text x="142.5" y="343.8" font-size="9.5" text-anchor="start" fill="#111" stroke="#111" stroke-width="0.22" >β-Actin</text>
<text x="65.8" y="375.4" font-size="10" text-anchor="start" fill="#111" stroke="#111" stroke-width="0.22" >WT</text>
<text x="99.5" y="375.4" font-size="10" text-anchor="start" fill="#111" stroke="#111" stroke-width="0.22" >Myc<tspan font-size="7" dy="-3.2">(T58A)</tspan></text>
<line x1="56.2" y1="378.3" x2="91.7" y2="378.3" stroke="#666" stroke-width="1.2" stroke-dasharray="1,0.8"/>
<line x1="96.6" y1="378.3" x2="133.3" y2="378.3" stroke="#666" stroke-width="1.2" stroke-dasharray="1,0.8"/>
<text x="62.9" y="389.90" font-size="10.5" text-anchor="middle" font-weight="bold" fill="#111" stroke="#111" stroke-width="0.7">−</text>
<text x="83" y="389.40" font-size="9" text-anchor="middle" font-weight="bold" fill="#111" stroke="#111" stroke-width="0.3">+</text>
<text x="103.8" y="389.90" font-size="10.5" text-anchor="middle" font-weight="bold" fill="#111" stroke="#111" stroke-width="0.7">−</text>
<text x="124.6" y="389.40" font-size="9" text-anchor="middle" font-weight="bold" fill="#111" stroke="#111" stroke-width="0.3">+</text>
<text x="141.6" y="390.2" font-size="9.3" text-anchor="start" fill="#111" stroke="#111" stroke-width="0.22" >NSC12_6 μmol/L</text>
<rect x="51.3" y="395.4" width="87.90" height="25.80" fill="#fff" stroke="#444" stroke-width="0.9"/>
<rect x="51.3" y="424.6" width="87.90" height="25.80" fill="#fff" stroke="#444" stroke-width="0.9"/>
<rect x="54.20" y="397.00" width="15.00" height="13.00" rx="2" fill="url(#gs)" fill-opacity="0.6" filter="url(#bl2)"/>
<rect x="53.45" y="407.05" width="16.50" height="9.50" rx="4.12" ry="4.75" fill="#000" fill-opacity="1.0" filter="url(#bl)"/>
<rect x="78.40" y="407.95" width="12.00" height="2.50" rx="3.00" ry="1.25" fill="#000" fill-opacity="0.12" filter="url(#bl)"/>
<rect x="78.40" y="412.75" width="12.00" height="2.50" rx="3.00" ry="1.25" fill="#000" fill-opacity="0.15" filter="url(#bl)"/>
<rect x="97.80" y="399.70" width="15.00" height="4.40" rx="3.75" ry="2.20" fill="#000" fill-opacity="1.0" filter="url(#bl)"/>
<rect x="98.30" y="403.00" width="14.00" height="8.00" rx="2" fill="#000" fill-opacity="0.55" filter="url(#bl2)"/>
<rect x="97.55" y="409.30" width="15.50" height="8.00" rx="3.88" ry="4.00" fill="#000" fill-opacity="1.0" filter="url(#bl)"/>
<rect x="120.80" y="400.40" width="14.00" height="3.00" rx="3.50" ry="1.50" fill="#000" fill-opacity="0.25" filter="url(#bl)"/>
<rect x="121.30" y="404.00" width="13.00" height="6.00" rx="2" fill="#000" fill-opacity="0.25" filter="url(#bl2)"/>
<rect x="120.30" y="411.20" width="15.00" height="4.60" rx="3.75" ry="2.30" fill="#000" fill-opacity="0.97" filter="url(#bl)"/>
<rect x="54.95" y="435.70" width="15.50" height="4.80" rx="3.88" ry="2.40" fill="#000" fill-opacity="1.0" filter="url(#bl)"/>
<rect x="77.25" y="435.70" width="15.50" height="4.80" rx="3.88" ry="2.40" fill="#000" fill-opacity="1.0" filter="url(#bl)"/>
<rect x="98.45" y="435.70" width="15.50" height="4.80" rx="3.88" ry="2.40" fill="#000" fill-opacity="1.0" filter="url(#bl)"/>
<rect x="119.95" y="435.70" width="15.50" height="4.80" rx="3.88" ry="2.40" fill="#000" fill-opacity="1.0" filter="url(#bl)"/>
<text x="142.5" y="412.6" font-size="9.5" text-anchor="start" fill="#111" stroke="#111" stroke-width="0.22" >c-Myc</text>
<text x="142.5" y="440.3" font-size="9.5" text-anchor="start" fill="#111" stroke="#111" stroke-width="0.22" >β-Actin</text>
<line x1="302.5" y1="297.5" x2="302.5" y2="434.6" stroke="#222" stroke-width="0.9"/>
<line x1="299.3" y1="434.60" x2="302.5" y2="434.60" stroke="#222" stroke-width="0.9"/>
<text x="297.0" y="437.98" font-size="9.4" text-anchor="end" fill="#111" stroke="#111" stroke-width="0.22" >0</text>
<line x1="299.3" y1="407.16" x2="302.5" y2="407.16" stroke="#222" stroke-width="0.9"/>
<text x="297.0" y="410.54" font-size="9.4" text-anchor="end" fill="#111" stroke="#111" stroke-width="0.22" >20</text>
<line x1="299.3" y1="379.72" x2="302.5" y2="379.72" stroke="#222" stroke-width="0.9"/>
<text x="297.0" y="383.10" font-size="9.4" text-anchor="end" fill="#111" stroke="#111" stroke-width="0.22" >40</text>
<line x1="299.3" y1="352.28" x2="302.5" y2="352.28" stroke="#222" stroke-width="0.9"/>
<text x="297.0" y="355.66" font-size="9.4" text-anchor="end" fill="#111" stroke="#111" stroke-width="0.22" >60</text>
<line x1="299.3" y1="324.84" x2="302.5" y2="324.84" stroke="#222" stroke-width="0.9"/>
<text x="297.0" y="328.22" font-size="9.4" text-anchor="end" fill="#111" stroke="#111" stroke-width="0.22" >80</text>
<line x1="299.3" y1="297.40" x2="302.5" y2="297.40" stroke="#222" stroke-width="0.9"/>
<text x="297.0" y="300.78" font-size="9.4" text-anchor="end" fill="#111" stroke="#111" stroke-width="0.22" >100</text>
<rect x="306.2" y="288.1" width="8.2" height="6" fill="#fff" stroke="#111" stroke-width="0.9"/>
<rect x="306.2" y="297.3" width="8.2" height="6.9" fill="#f02812" stroke="#111" stroke-width="0.9"/>
<text x="318.8" y="293.90000000000003" font-size="8.5" text-anchor="start" fill="#111" stroke="#111" stroke-width="0.22" >DMSO</text>
<text x="318.8" y="303.5" font-size="8.5" text-anchor="start" fill="#111" stroke="#111" stroke-width="0.22" >NSC12_6 μmol/L</text>
<line x1="317.60" y1="421.00" x2="317.60" y2="424.10" stroke="#111" stroke-width="0.9"/>
<line x1="315.10" y1="421.00" x2="320.10" y2="421.00" stroke="#111" stroke-width="0.9"/>
<rect x="312.50" y="424.10" width="10.20" height="10.50" fill="#fff" stroke="#111" stroke-width="0.9"/>
<line x1="329.80" y1="347.60" x2="329.80" y2="355.80" stroke="#111" stroke-width="0.9"/>
<line x1="327.30" y1="347.60" x2="332.30" y2="347.60" stroke="#111" stroke-width="0.9"/>
<rect x="324.80" y="355.80" width="10.00" height="78.80" fill="#f02812" stroke="#111" stroke-width="0.9"/>
<line x1="352.40" y1="420.40" x2="352.40" y2="422.30" stroke="#111" stroke-width="0.9"/>
<line x1="349.90" y1="420.40" x2="354.90" y2="420.40" stroke="#111" stroke-width="0.9"/>
<rect x="347.30" y="422.30" width="10.20" height="12.30" fill="#fff" stroke="#111" stroke-width="0.9"/>
<line x1="364.15" y1="411.50" x2="364.15" y2="414.20" stroke="#111" stroke-width="0.9"/>
<line x1="361.65" y1="411.50" x2="366.65" y2="411.50" stroke="#111" stroke-width="0.9"/>
<rect x="359.20" y="414.20" width="9.90" height="20.40" fill="#f02812" stroke="#111" stroke-width="0.9"/>
<text x="329" y="338" font-size="10.5" text-anchor="middle" fill="#111" stroke="#111" stroke-width="0.22" >#</text>
<line x1="311.6" y1="445.2" x2="369.7" y2="445.2" stroke="#111" stroke-width="1.1"/>
<text x="323.8" y="457.3" font-size="8.2" text-anchor="middle" fill="#111" stroke="#111" stroke-width="0.22" >WT</text>
<text x="358.5" y="457.3" font-size="8.2" text-anchor="middle" fill="#111" stroke="#111" stroke-width="0.22" >MycT58A</text>
<text transform="translate(274.0,363.8) rotate(-90)" font-size="11.64" text-anchor="middle" fill="#111" stroke="#111" stroke-width="0.22">MitoSox Pos. cells (%)</text>
<line x1="422.5" y1="296.7" x2="422.5" y2="434.2" stroke="#222" stroke-width="0.9"/>
<line x1="419.3" y1="434.20" x2="422.5" y2="434.20" stroke="#222" stroke-width="0.9"/>
<text x="417.0" y="437.58" font-size="9.4" text-anchor="end" fill="#111" stroke="#111" stroke-width="0.22" >0</text>
<line x1="419.3" y1="406.70" x2="422.5" y2="406.70" stroke="#222" stroke-width="0.9"/>
<text x="417.0" y="410.08" font-size="9.4" text-anchor="end" fill="#111" stroke="#111" stroke-width="0.22" >20</text>
<line x1="419.3" y1="379.20" x2="422.5" y2="379.20" stroke="#222" stroke-width="0.9"/>
<text x="417.0" y="382.58" font-size="9.4" text-anchor="end" fill="#111" stroke="#111" stroke-width="0.22" >40</text>
<line x1="419.3" y1="351.70" x2="422.5" y2="351.70" stroke="#222" stroke-width="0.9"/>
<text x="417.0" y="355.08" font-size="9.4" text-anchor="end" fill="#111" stroke="#111" stroke-width="0.22" >60</text>
<line x1="419.3" y1="324.20" x2="422.5" y2="324.20" stroke="#222" stroke-width="0.9"/>
<text x="417.0" y="327.58" font-size="9.4" text-anchor="end" fill="#111" stroke="#111" stroke-width="0.22" >80</text>
<line x1="419.3" y1="296.70" x2="422.5" y2="296.70" stroke="#222" stroke-width="0.9"/>
<text x="417.0" y="300.08" font-size="9.4" text-anchor="end" fill="#111" stroke="#111" stroke-width="0.22" >100</text>
<rect x="426.3" y="288.1" width="8.2" height="6" fill="#fff" stroke="#111" stroke-width="0.9"/>
<rect x="426.3" y="297.3" width="8.2" height="6.9" fill="#f02812" stroke="#111" stroke-width="0.9"/>
<text x="439.2" y="293.90000000000003" font-size="8.5" text-anchor="start" fill="#111" stroke="#111" stroke-width="0.22" >DMSO</text>
<text x="439.2" y="303.5" font-size="8.5" text-anchor="start" fill="#111" stroke="#111" stroke-width="0.22" >NSC12_6 μmol/L</text>
<line x1="437.95" y1="411.00" x2="437.95" y2="414.20" stroke="#111" stroke-width="0.9"/>
<line x1="435.45" y1="411.00" x2="440.45" y2="411.00" stroke="#111" stroke-width="0.9"/>
<rect x="432.90" y="414.20" width="10.10" height="20.00" fill="#fff" stroke="#111" stroke-width="0.9"/>
<line x1="449.70" y1="337.30" x2="449.70" y2="345.60" stroke="#111" stroke-width="0.9"/>
<line x1="447.20" y1="337.30" x2="452.20" y2="337.30" stroke="#111" stroke-width="0.9"/>
<rect x="444.60" y="345.60" width="10.20" height="88.60" fill="#f02812" stroke="#111" stroke-width="0.9"/>
<line x1="472.75" y1="404.00" x2="472.75" y2="407.20" stroke="#111" stroke-width="0.9"/>
<line x1="470.25" y1="404.00" x2="475.25" y2="404.00" stroke="#111" stroke-width="0.9"/>
<rect x="467.70" y="407.20" width="10.10" height="27.00" fill="#fff" stroke="#111" stroke-width="0.9"/>
<line x1="484.30" y1="391.20" x2="484.30" y2="395.20" stroke="#111" stroke-width="0.9"/>
<line x1="481.80" y1="391.20" x2="486.80" y2="391.20" stroke="#111" stroke-width="0.9"/>
<rect x="479.40" y="395.20" width="9.80" height="39.00" fill="#f02812" stroke="#111" stroke-width="0.9"/>
<text x="449.2" y="332.5" font-size="10.5" text-anchor="middle" fill="#111" stroke="#111" stroke-width="0.22" >#</text>
<line x1="432.3" y1="444.5" x2="489.8" y2="444.5" stroke="#111" stroke-width="1.1"/>
<text x="443" y="458.8" font-size="8.2" text-anchor="middle" fill="#111" stroke="#111" stroke-width="0.22" >WT</text>
<text x="478.9" y="458.8" font-size="8.2" text-anchor="middle" fill="#111" stroke="#111" stroke-width="0.22" >MycT58A</text>
<text transform="translate(394.8,361.9) rotate(-90)" font-size="11.17" text-anchor="middle" fill="#111" stroke="#111" stroke-width="0.22">Cell death (%)</text>
<line x1="37.5" y1="493.4" x2="37.5" y2="622.5" stroke="#222" stroke-width="0.9"/>
<line x1="34.3" y1="622.50" x2="37.5" y2="622.50" stroke="#222" stroke-width="0.9"/>
<text x="31.999999999999996" y="625.88" font-size="9.4" text-anchor="end" fill="#111" stroke="#111" stroke-width="0.22" >0</text>
<line x1="34.3" y1="593.25" x2="37.5" y2="593.25" stroke="#222" stroke-width="0.9"/>
<text x="31.999999999999996" y="596.63" font-size="9.4" text-anchor="end" fill="#111" stroke="#111" stroke-width="0.22" >25</text>
<line x1="34.3" y1="564.00" x2="37.5" y2="564.00" stroke="#222" stroke-width="0.9"/>
<text x="31.999999999999996" y="567.38" font-size="9.4" text-anchor="end" fill="#111" stroke="#111" stroke-width="0.22" >50</text>
<line x1="34.3" y1="534.75" x2="37.5" y2="534.75" stroke="#222" stroke-width="0.9"/>
<text x="31.999999999999996" y="538.13" font-size="9.4" text-anchor="end" fill="#111" stroke="#111" stroke-width="0.22" >75</text>
<line x1="34.3" y1="505.50" x2="37.5" y2="505.50" stroke="#222" stroke-width="0.9"/>
<text x="31.999999999999996" y="508.88" font-size="9.4" text-anchor="end" fill="#111" stroke="#111" stroke-width="0.22" >100</text>
<rect x="46.9" y="472.9" width="8" height="6.1" fill="#fff" stroke="#111" stroke-width="0.9"/>
<rect x="46.9" y="483.1" width="8" height="6.5" fill="#f02812" stroke="#111" stroke-width="0.9"/>
<text x="58.8" y="478.7" font-size="7.7" text-anchor="start" fill="#111" stroke="#111" stroke-width="0.21" >DMSO</text>
<text x="58.8" y="489.3" font-size="7.7" text-anchor="start" fill="#111" stroke="#111" stroke-width="0.21" >NSC12_6 μmol/L</text>
<rect x="48.00" y="505.50" width="11.80" height="117.00" fill="#fff" stroke="#111" stroke-width="0.9"/>
<line x1="69.35" y1="523.50" x2="69.35" y2="532.80" stroke="#111" stroke-width="0.9"/>
<line x1="66.85" y1="523.50" x2="71.85" y2="523.50" stroke="#111" stroke-width="0.9"/>
<rect x="63.50" y="532.80" width="11.70" height="89.70" fill="#f02812" stroke="#111" stroke-width="0.9"/>
<line x1="84.40" y1="494.70" x2="84.40" y2="502.70" stroke="#111" stroke-width="0.9"/>
<line x1="81.90" y1="494.70" x2="86.90" y2="494.70" stroke="#111" stroke-width="0.9"/>
<rect x="78.70" y="502.70" width="11.40" height="119.80" fill="#f02812" stroke="#111" stroke-width="0.9"/>
<line x1="99.10" y1="578.60" x2="99.10" y2="582.30" stroke="#111" stroke-width="0.9"/>
<line x1="96.60" y1="578.60" x2="101.60" y2="578.60" stroke="#111" stroke-width="0.9"/>
<rect x="93.50" y="582.30" width="11.20" height="40.20" fill="#f02812" stroke="#111" stroke-width="0.9"/>
<text x="68.7" y="519.5" font-size="10.5" text-anchor="middle" fill="#111" stroke="#111" stroke-width="0.22" >*</text>
<text x="99.1" y="573" font-size="10.5" text-anchor="middle" fill="#111" stroke="#111" stroke-width="0.22" >#</text>
<line x1="46.4" y1="631.8" x2="106.8" y2="631.8" stroke="#111" stroke-width="1.1"/>
<text x="54.4" y="643.5" font-size="9.2" text-anchor="middle" fill="#111" stroke="#111" stroke-width="0.22" >12</text>
<text x="69.3" y="643.5" font-size="9.2" text-anchor="middle" fill="#111" stroke="#111" stroke-width="0.22" >3</text>
<text x="84.4" y="643.5" font-size="9.2" text-anchor="middle" fill="#111" stroke="#111" stroke-width="0.22" >6</text>
<text x="99.1" y="643.5" font-size="9.2" text-anchor="middle" fill="#111" stroke="#111" stroke-width="0.22" >12</text>
<text x="74.9" y="659.7" font-size="10" text-anchor="middle" fill="#111" stroke="#111" stroke-width="0.22" >hrs</text>
<text transform="translate(13.6,555.9) rotate(-90)" font-size="9.62" text-anchor="middle" fill="#111" stroke="#111" stroke-width="0.22">GSH (% over Ctrl)</text>
<line x1="163.5" y1="503.3" x2="163.5" y2="621.6" stroke="#222" stroke-width="0.9"/>
<line x1="160.3" y1="621.60" x2="163.5" y2="621.60" stroke="#222" stroke-width="0.9"/>
<text x="158.0" y="624.98" font-size="9.4" text-anchor="end" fill="#111" stroke="#111" stroke-width="0.22" >0</text>
<line x1="160.3" y1="594.60" x2="163.5" y2="594.60" stroke="#222" stroke-width="0.9"/>
<text x="158.0" y="597.98" font-size="9.4" text-anchor="end" fill="#111" stroke="#111" stroke-width="0.22" >25</text>
<line x1="160.3" y1="567.60" x2="163.5" y2="567.60" stroke="#222" stroke-width="0.9"/>
<text x="158.0" y="570.98" font-size="9.4" text-anchor="end" fill="#111" stroke="#111" stroke-width="0.22" >50</text>
<line x1="160.3" y1="540.60" x2="163.5" y2="540.60" stroke="#222" stroke-width="0.9"/>
<text x="158.0" y="543.98" font-size="9.4" text-anchor="end" fill="#111" stroke="#111" stroke-width="0.22" >75</text>
<line x1="160.3" y1="513.60" x2="163.5" y2="513.60" stroke="#222" stroke-width="0.9"/>
<text x="158.0" y="516.98" font-size="9.4" text-anchor="end" fill="#111" stroke="#111" stroke-width="0.22" >100</text>
<rect x="159.2" y="476.6" width="7.8" height="5.1" fill="#fff" stroke="#111" stroke-width="0.9"/>
<rect x="159.2" y="486.4" width="7.8" height="6.3" fill="#f02812" stroke="#111" stroke-width="0.9"/>
<text x="171.3" y="482.40000000000003" font-size="7.8" text-anchor="start" fill="#111" stroke="#111" stroke-width="0.21" >DMSO</text>
<text x="171.3" y="492.59999999999997" font-size="7.8" text-anchor="start" fill="#111" stroke="#111" stroke-width="0.21" >NSC12_6 μmol/L</text>
<rect x="173.30" y="513.60" width="11.70" height="108.00" fill="#fff" stroke="#111" stroke-width="0.9"/>
<line x1="194.00" y1="568.40" x2="194.00" y2="574.60" stroke="#111" stroke-width="0.9"/>
<line x1="191.50" y1="568.40" x2="196.50" y2="568.40" stroke="#111" stroke-width="0.9"/>
<rect x="188.10" y="574.60" width="11.80" height="47.00" fill="#f02812" stroke="#111" stroke-width="0.9"/>
<line x1="207.75" y1="522.50" x2="207.75" y2="535.20" stroke="#111" stroke-width="0.9"/>
<line x1="205.25" y1="522.50" x2="210.25" y2="522.50" stroke="#111" stroke-width="0.9"/>
<rect x="202.00" y="535.20" width="11.50" height="86.40" fill="#f02812" stroke="#111" stroke-width="0.9"/>
<text x="193.7" y="563" font-size="10.5" text-anchor="middle" fill="#111" stroke="#111" stroke-width="0.22" >*</text>
<line x1="172.6" y1="631.3" x2="214.4" y2="631.3" stroke="#111" stroke-width="1.1"/>
<text transform="translate(182.3,639.3) rotate(-43)" font-size="8.7" text-anchor="end" fill="#111" stroke="#111" stroke-width="0.22">Ctrl</text>
<text transform="translate(195.8,639.3) rotate(-43)" font-size="8.7" text-anchor="end" fill="#111" stroke="#111" stroke-width="0.22">WT</text>
<text transform="translate(210.5,639.3) rotate(-43)" font-size="8.7" text-anchor="end" fill="#111" stroke="#111" stroke-width="0.22">MycT58A</text>
<text transform="translate(138.5,560.0) rotate(-90)" font-size="9.61" text-anchor="middle" fill="#111" stroke="#111" stroke-width="0.22">GSH (% over Ctrl)</text>
<line x1="448.7" y1="498.7" x2="448.7" y2="613.7" stroke="#222" stroke-width="0.9"/>
<line x1="445.5" y1="613.70" x2="448.7" y2="613.70" stroke="#222" stroke-width="0.9"/>
<text x="443.2" y="616.83" font-size="8.7" text-anchor="end" fill="#111" stroke="#111" stroke-width="0.22" >0</text>
<line x1="445.5" y1="587.40" x2="448.7" y2="587.40" stroke="#222" stroke-width="0.9"/>
<text x="443.2" y="590.53" font-size="8.7" text-anchor="end" fill="#111" stroke="#111" stroke-width="0.22" >25</text>
<line x1="445.5" y1="561.10" x2="448.7" y2="561.10" stroke="#222" stroke-width="0.9"/>
<text x="443.2" y="564.23" font-size="8.7" text-anchor="end" fill="#111" stroke="#111" stroke-width="0.22" >50</text>
<line x1="445.5" y1="534.80" x2="448.7" y2="534.80" stroke="#222" stroke-width="0.9"/>
<text x="443.2" y="537.93" font-size="8.7" text-anchor="end" fill="#111" stroke="#111" stroke-width="0.22" >75</text>
<line x1="445.5" y1="508.50" x2="448.7" y2="508.50" stroke="#222" stroke-width="0.9"/>
<text x="443.2" y="511.63" font-size="8.7" text-anchor="end" fill="#111" stroke="#111" stroke-width="0.22" >100</text>
<rect x="445.8" y="476.5" width="8" height="5.3" fill="#fff" stroke="#111" stroke-width="0.9"/>
<rect x="445.8" y="486.2" width="8" height="6.4" fill="#f02812" stroke="#111" stroke-width="0.9"/>
<text x="458.2" y="482.3" font-size="8.0" text-anchor="start" fill="#111" stroke="#111" stroke-width="0.22" >DMSO</text>
<text x="458.2" y="492.4" font-size="8.0" text-anchor="start" fill="#111" stroke="#111" stroke-width="0.22" >NSC12_6 μmol/L</text>
<rect x="458.80" y="508.60" width="12.30" height="105.10" fill="#fff" stroke="#111" stroke-width="0.9"/>
<line x1="478.70" y1="569.80" x2="478.70" y2="576.00" stroke="#111" stroke-width="0.9"/>
<line x1="476.20" y1="569.80" x2="481.20" y2="569.80" stroke="#111" stroke-width="0.9"/>
<rect x="473.30" y="576.00" width="10.80" height="37.70" fill="#f02812" stroke="#111" stroke-width="0.9"/>
<line x1="492.30" y1="566.00" x2="492.30" y2="567.60" stroke="#111" stroke-width="0.9"/>
<line x1="489.80" y1="566.00" x2="494.80" y2="566.00" stroke="#111" stroke-width="0.9"/>
<rect x="486.60" y="567.60" width="11.40" height="46.10" fill="#f02812" stroke="#111" stroke-width="0.9"/>
<text x="478.9" y="563.5" font-size="10.5" text-anchor="middle" fill="#111" stroke="#111" stroke-width="0.22" >#</text>
<text x="492.2" y="563.5" font-size="10.5" text-anchor="middle" fill="#111" stroke="#111" stroke-width="0.22" >#</text>
<line x1="457.2" y1="623.3" x2="499" y2="623.3" stroke="#111" stroke-width="1.1"/>
<text transform="translate(471,631) rotate(-42)" font-size="8.8" text-anchor="end" fill="#111" stroke="#111" stroke-width="0.22">DMSO</text>
<text transform="translate(482,632.5) rotate(-42)" font-size="8.8" text-anchor="end" fill="#111" stroke="#111" stroke-width="0.22">NSC12</text>
<text transform="translate(495.5,632) rotate(-42)" font-size="8.5" text-anchor="end" fill="#111" stroke="#111" stroke-width="0.22">NSC12+VitE</text>
<text transform="translate(422.0,553.3) rotate(-90)" font-size="9.42" text-anchor="middle" fill="#111" stroke="#111" stroke-width="0.22">GSH (% over Ctrl)</text>
<rect x="242" y="484" width="68.00" height="68.50" fill="#fff" stroke="#bdbdbd" stroke-width="0.7"/>
<line x1="242" y1="552.5" x2="310" y2="552.5" stroke="#999" stroke-width="0.7"/>
<line x1="242" y1="484" x2="242" y2="552.5" stroke="#999" stroke-width="0.7"/>
<line x1="242.80" y1="552.5" x2="242.80" y2="553.4" stroke="#aaa" stroke-width="0.4"/>
<line x1="244.40" y1="552.5" x2="244.40" y2="553.4" stroke="#aaa" stroke-width="0.4"/>
<line x1="246.00" y1="552.5" x2="246.00" y2="553.4" stroke="#aaa" stroke-width="0.4"/>
<line x1="247.60" y1="552.5" x2="247.60" y2="553.4" stroke="#aaa" stroke-width="0.4"/>
<line x1="249.20" y1="552.5" x2="249.20" y2="553.4" stroke="#aaa" stroke-width="0.4"/>
<line x1="250.80" y1="552.5" x2="250.80" y2="553.4" stroke="#aaa" stroke-width="0.4"/>
<line x1="252.40" y1="552.5" x2="252.40" y2="553.4" stroke="#aaa" stroke-width="0.4"/>
<line x1="254.00" y1="552.5" x2="254.00" y2="553.4" stroke="#aaa" stroke-width="0.4"/>
<line x1="255.60" y1="552.5" x2="255.60" y2="553.4" stroke="#aaa" stroke-width="0.4"/>
<line x1="257.20" y1="552.5" x2="257.20" y2="553.4" stroke="#aaa" stroke-width="0.4"/>
<line x1="258.80" y1="552.5" x2="258.80" y2="553.4" stroke="#aaa" stroke-width="0.4"/>
<line x1="260.40" y1="552.5" x2="260.40" y2="553.4" stroke="#aaa" stroke-width="0.4"/>
<line x1="262.00" y1="552.5" x2="262.00" y2="553.4" stroke="#aaa" stroke-width="0.4"/>
<line x1="263.60" y1="552.5" x2="263.60" y2="553.4" stroke="#aaa" stroke-width="0.4"/>
<line x1="265.20" y1="552.5" x2="265.20" y2="553.4" stroke="#aaa" stroke-width="0.4"/>
<line x1="266.80" y1="552.5" x2="266.80" y2="553.4" stroke="#aaa" stroke-width="0.4"/>
<line x1="268.40" y1="552.5" x2="268.40" y2="553.4" stroke="#aaa" stroke-width="0.4"/>
<line x1="270.00" y1="552.5" x2="270.00" y2="553.4" stroke="#aaa" stroke-width="0.4"/>
<line x1="271.60" y1="552.5" x2="271.60" y2="553.4" stroke="#aaa" stroke-width="0.4"/>
<line x1="273.20" y1="552.5" x2="273.20" y2="553.4" stroke="#aaa" stroke-width="0.4"/>
<line x1="274.80" y1="552.5" x2="274.80" y2="553.4" stroke="#aaa" stroke-width="0.4"/>
<line x1="276.40" y1="552.5" x2="276.40" y2="553.4" stroke="#aaa" stroke-width="0.4"/>
<line x1="278.00" y1="552.5" x2="278.00" y2="553.4" stroke="#aaa" stroke-width="0.4"/>
<line x1="279.60" y1="552.5" x2="279.60" y2="553.4" stroke="#aaa" stroke-width="0.4"/>
<line x1="281.20" y1="552.5" x2="281.20" y2="553.4" stroke="#aaa" stroke-width="0.4"/>
<line x1="282.80" y1="552.5" x2="282.80" y2="553.4" stroke="#aaa" stroke-width="0.4"/>
<line x1="284.40" y1="552.5" x2="284.40" y2="553.4" stroke="#aaa" stroke-width="0.4"/>
<line x1="286.00" y1="552.5" x2="286.00" y2="553.4" stroke="#aaa" stroke-width="0.4"/>
<line x1="287.60" y1="552.5" x2="287.60" y2="553.4" stroke="#aaa" stroke-width="0.4"/>
<line x1="289.20" y1="552.5" x2="289.20" y2="553.4" stroke="#aaa" stroke-width="0.4"/>
<line x1="290.80" y1="552.5" x2="290.80" y2="553.4" stroke="#aaa" stroke-width="0.4"/>
<line x1="292.40" y1="552.5" x2="292.40" y2="553.4" stroke="#aaa" stroke-width="0.4"/>
<line x1="294.00" y1="552.5" x2="294.00" y2="553.4" stroke="#aaa" stroke-width="0.4"/>
<line x1="295.60" y1="552.5" x2="295.60" y2="553.4" stroke="#aaa" stroke-width="0.4"/>
<line x1="297.20" y1="552.5" x2="297.20" y2="553.4" stroke="#aaa" stroke-width="0.4"/>
<line x1="298.80" y1="552.5" x2="298.80" y2="553.4" stroke="#aaa" stroke-width="0.4"/>
<line x1="300.40" y1="552.5" x2="300.40" y2="553.4" stroke="#aaa" stroke-width="0.4"/>
<line x1="302.00" y1="552.5" x2="302.00" y2="553.4" stroke="#aaa" stroke-width="0.4"/>
<line x1="303.60" y1="552.5" x2="303.60" y2="553.4" stroke="#aaa" stroke-width="0.4"/>
<line x1="305.20" y1="552.5" x2="305.20" y2="553.4" stroke="#aaa" stroke-width="0.4"/>
<line x1="306.80" y1="552.5" x2="306.80" y2="553.4" stroke="#aaa" stroke-width="0.4"/>
<line x1="308.40" y1="552.5" x2="308.40" y2="553.4" stroke="#aaa" stroke-width="0.4"/>
<line x1="241.1" y1="551.70" x2="242" y2="551.70" stroke="#aaa" stroke-width="0.4"/>
<line x1="241.1" y1="550.10" x2="242" y2="550.10" stroke="#aaa" stroke-width="0.4"/>
<line x1="241.1" y1="548.50" x2="242" y2="548.50" stroke="#aaa" stroke-width="0.4"/>
<line x1="241.1" y1="546.90" x2="242" y2="546.90" stroke="#aaa" stroke-width="0.4"/>
<line x1="241.1" y1="545.30" x2="242" y2="545.30" stroke="#aaa" stroke-width="0.4"/>
<line x1="241.1" y1="543.70" x2="242" y2="543.70" stroke="#aaa" stroke-width="0.4"/>
<line x1="241.1" y1="542.10" x2="242" y2="542.10" stroke="#aaa" stroke-width="0.4"/>
<line x1="241.1" y1="540.50" x2="242" y2="540.50" stroke="#aaa" stroke-width="0.4"/>
<line x1="241.1" y1="538.90" x2="242" y2="538.90" stroke="#aaa" stroke-width="0.4"/>
<line x1="241.1" y1="537.30" x2="242" y2="537.30" stroke="#aaa" stroke-width="0.4"/>
<line x1="241.1" y1="535.70" x2="242" y2="535.70" stroke="#aaa" stroke-width="0.4"/>
<line x1="241.1" y1="534.10" x2="242" y2="534.10" stroke="#aaa" stroke-width="0.4"/>
<line x1="241.1" y1="532.50" x2="242" y2="532.50" stroke="#aaa" stroke-width="0.4"/>
<line x1="241.1" y1="530.90" x2="242" y2="530.90" stroke="#aaa" stroke-width="0.4"/>
<line x1="241.1" y1="529.30" x2="242" y2="529.30" stroke="#aaa" stroke-width="0.4"/>
<line x1="241.1" y1="527.70" x2="242" y2="527.70" stroke="#aaa" stroke-width="0.4"/>
<line x1="241.1" y1="526.10" x2="242" y2="526.10" stroke="#aaa" stroke-width="0.4"/>
<line x1="241.1" y1="524.50" x2="242" y2="524.50" stroke="#aaa" stroke-width="0.4"/>
<line x1="241.1" y1="522.90" x2="242" y2="522.90" stroke="#aaa" stroke-width="0.4"/>
<line x1="241.1" y1="521.30" x2="242" y2="521.30" stroke="#aaa" stroke-width="0.4"/>
<line x1="241.1" y1="519.70" x2="242" y2="519.70" stroke="#aaa" stroke-width="0.4"/>
<line x1="241.1" y1="518.10" x2="242" y2="518.10" stroke="#aaa" stroke-width="0.4"/>
<line x1="241.1" y1="516.50" x2="242" y2="516.50" stroke="#aaa" stroke-width="0.4"/>
<line x1="241.1" y1="514.90" x2="242" y2="514.90" stroke="#aaa" stroke-width="0.4"/>
<line x1="241.1" y1="513.30" x2="242" y2="513.30" stroke="#aaa" stroke-width="0.4"/>
<line x1="241.1" y1="511.70" x2="242" y2="511.70" stroke="#aaa" stroke-width="0.4"/>
<line x1="241.1" y1="510.10" x2="242" y2="510.10" stroke="#aaa" stroke-width="0.4"/>
<line x1="241.1" y1="508.50" x2="242" y2="508.50" stroke="#aaa" stroke-width="0.4"/>
<line x1="241.1" y1="506.90" x2="242" y2="506.90" stroke="#aaa" stroke-width="0.4"/>
<line x1="241.1" y1="505.30" x2="242" y2="505.30" stroke="#aaa" stroke-width="0.4"/>
<line x1="241.1" y1="503.70" x2="242" y2="503.70" stroke="#aaa" stroke-width="0.4"/>
<line x1="241.1" y1="502.10" x2="242" y2="502.10" stroke="#aaa" stroke-width="0.4"/>
<line x1="241.1" y1="500.50" x2="242" y2="500.50" stroke="#aaa" stroke-width="0.4"/>
<line x1="241.1" y1="498.90" x2="242" y2="498.90" stroke="#aaa" stroke-width="0.4"/>
<line x1="241.1" y1="497.30" x2="242" y2="497.30" stroke="#aaa" stroke-width="0.4"/>
<line x1="241.1" y1="495.70" x2="242" y2="495.70" stroke="#aaa" stroke-width="0.4"/>
<line x1="241.1" y1="494.10" x2="242" y2="494.10" stroke="#aaa" stroke-width="0.4"/>
<line x1="241.1" y1="492.50" x2="242" y2="492.50" stroke="#aaa" stroke-width="0.4"/>
<line x1="241.1" y1="490.90" x2="242" y2="490.90" stroke="#aaa" stroke-width="0.4"/>
<line x1="241.1" y1="489.30" x2="242" y2="489.30" stroke="#aaa" stroke-width="0.4"/>
<line x1="240.5" y1="552.50" x2="242" y2="552.50" stroke="#888" stroke-width="0.5"/>
<text x="240" y="553.50" font-size="2.8" text-anchor="end" fill="#888" stroke="#888" stroke-width="0.00" >0</text>
<line x1="240.5" y1="540.54" x2="242" y2="540.54" stroke="#888" stroke-width="0.5"/>
<text x="240" y="541.54" font-size="2.8" text-anchor="end" fill="#888" stroke="#888" stroke-width="0.00" >20</text>
<line x1="240.5" y1="528.58" x2="242" y2="528.58" stroke="#888" stroke-width="0.5"/>
<text x="240" y="529.58" font-size="2.8" text-anchor="end" fill="#888" stroke="#888" stroke-width="0.00" >40</text>
<line x1="240.5" y1="516.62" x2="242" y2="516.62" stroke="#888" stroke-width="0.5"/>
<text x="240" y="517.62" font-size="2.8" text-anchor="end" fill="#888" stroke="#888" stroke-width="0.00" >60</text>
<line x1="240.5" y1="504.66" x2="242" y2="504.66" stroke="#888" stroke-width="0.5"/>
<text x="240" y="505.66" font-size="2.8" text-anchor="end" fill="#888" stroke="#888" stroke-width="0.00" >80</text>
<line x1="240.5" y1="492.70" x2="242" y2="492.70" stroke="#888" stroke-width="0.5"/>
<text x="240" y="493.70" font-size="2.8" text-anchor="end" fill="#888" stroke="#888" stroke-width="0.00" >100</text>
<line x1="243.36" y1="552.5" x2="243.36" y2="554.0" stroke="#888" stroke-width="0.5"/>
<text x="243.36" y="557.0" font-size="2.8" text-anchor="middle" fill="#888" stroke="#888" stroke-width="0.00" >-1</text>
<line x1="248.46" y1="552.5" x2="248.46" y2="554.0" stroke="#888" stroke-width="0.5"/>
<text x="248.46" y="557.0" font-size="2.8" text-anchor="middle" fill="#888" stroke="#888" stroke-width="0.00" >0</text>
<line x1="255.26" y1="552.5" x2="255.26" y2="554.0" stroke="#888" stroke-width="0.5"/>
<text x="255.26" y="557.0" font-size="2.8" text-anchor="middle" fill="#888" stroke="#888" stroke-width="0.00" >1</text>
<line x1="271.92" y1="552.5" x2="271.92" y2="554.0" stroke="#888" stroke-width="0.5"/>
<text x="271.92" y="557.0" font-size="2.8" text-anchor="middle" fill="#888" stroke="#888" stroke-width="0.00" >10³</text>
<line x1="290.62" y1="552.5" x2="290.62" y2="554.0" stroke="#888" stroke-width="0.5"/>
<text x="290.62" y="557.0" font-size="2.8" text-anchor="middle" fill="#888" stroke="#888" stroke-width="0.00" >10⁴</text>
<line x1="308.98" y1="552.5" x2="308.98" y2="554.0" stroke="#888" stroke-width="0.5"/>
<text x="308.98" y="557.0" font-size="2.8" text-anchor="middle" fill="#888" stroke="#888" stroke-width="0.00" >10⁵</text>
<line x1="244" y1="502.7" x2="310" y2="502.7" stroke="#ee8a8a" stroke-width="0.8" stroke-dasharray="2,0.6"/>
<path d="M251.8,552.4 L255.0,549.0 L259.6,543.7 L262.5,536.0 L265.7,526.4 L268.0,527.0 L270.0,528.1 L273.0,531.0 L275.2,532.5 L278.0,530.0 L280.4,528.1 L283.0,526.0 L285.6,523.8 L288.1,526.4 L290.4,522.1 L291.5,513.0 L293.3,503.1 L295.1,497.0 L297.7,503.1 L299.5,515.0 L301.1,525.6 L303.0,537.0 L304.6,544.6 L306.5,549.5 L308.0,551.5 L309.5,552.4" fill="none" stroke="#555" stroke-width="0.85" stroke-linejoin="round"/>
<text x="251.3" y="497" font-size="7.8" text-anchor="start" fill="#111" stroke="#111" stroke-width="0.21" >MFI: 55.9</text>
<rect x="328" y="484.4" width="67.60" height="67.60" fill="#fff" stroke="#bdbdbd" stroke-width="0.7"/>
<line x1="328" y1="552" x2="395.6" y2="552" stroke="#999" stroke-width="0.7"/>
<line x1="328" y1="484.4" x2="328" y2="552" stroke="#999" stroke-width="0.7"/>
<line x1="328.80" y1="552" x2="328.80" y2="552.9" stroke="#aaa" stroke-width="0.4"/>
<line x1="330.40" y1="552" x2="330.40" y2="552.9" stroke="#aaa" stroke-width="0.4"/>
<line x1="332.00" y1="552" x2="332.00" y2="552.9" stroke="#aaa" stroke-width="0.4"/>
<line x1="333.60" y1="552" x2="333.60" y2="552.9" stroke="#aaa" stroke-width="0.4"/>
<line x1="335.20" y1="552" x2="335.20" y2="552.9" stroke="#aaa" stroke-width="0.4"/>
<line x1="336.80" y1="552" x2="336.80" y2="552.9" stroke="#aaa" stroke-width="0.4"/>
<line x1="338.40" y1="552" x2="338.40" y2="552.9" stroke="#aaa" stroke-width="0.4"/>
<line x1="340.00" y1="552" x2="340.00" y2="552.9" stroke="#aaa" stroke-width="0.4"/>
<line x1="341.60" y1="552" x2="341.60" y2="552.9" stroke="#aaa" stroke-width="0.4"/>
<line x1="343.20" y1="552" x2="343.20" y2="552.9" stroke="#aaa" stroke-width="0.4"/>
<line x1="344.80" y1="552" x2="344.80" y2="552.9" stroke="#aaa" stroke-width="0.4"/>
<line x1="346.40" y1="552" x2="346.40" y2="552.9" stroke="#aaa" stroke-width="0.4"/>
<line x1="348.00" y1="552" x2="348.00" y2="552.9" stroke="#aaa" stroke-width="0.4"/>
<line x1="349.60" y1="552" x2="349.60" y2="552.9" stroke="#aaa" stroke-width="0.4"/>
<line x1="351.20" y1="552" x2="351.20" y2="552.9" stroke="#aaa" stroke-width="0.4"/>
<line x1="352.80" y1="552" x2="352.80" y2="552.9" stroke="#aaa" stroke-width="0.4"/>
<line x1="354.40" y1="552" x2="354.40" y2="552.9" stroke="#aaa" stroke-width="0.4"/>
<line x1="356.00" y1="552" x2="356.00" y2="552.9" stroke="#aaa" stroke-width="0.4"/>
<line x1="357.60" y1="552" x2="357.60" y2="552.9" stroke="#aaa" stroke-width="0.4"/>
<line x1="359.20" y1="552" x2="359.20" y2="552.9" stroke="#aaa" stroke-width="0.4"/>
<line x1="360.80" y1="552" x2="360.80" y2="552.9" stroke="#aaa" stroke-width="0.4"/>
<line x1="362.40" y1="552" x2="362.40" y2="552.9" stroke="#aaa" stroke-width="0.4"/>
<line x1="364.00" y1="552" x2="364.00" y2="552.9" stroke="#aaa" stroke-width="0.4"/>
<line x1="365.60" y1="552" x2="365.60" y2="552.9" stroke="#aaa" stroke-width="0.4"/>
<line x1="367.20" y1="552" x2="367.20" y2="552.9" stroke="#aaa" stroke-width="0.4"/>
<line x1="368.80" y1="552" x2="368.80" y2="552.9" stroke="#aaa" stroke-width="0.4"/>
<line x1="370.40" y1="552" x2="370.40" y2="552.9" stroke="#aaa" stroke-width="0.4"/>
<line x1="372.00" y1="552" x2="372.00" y2="552.9" stroke="#aaa" stroke-width="0.4"/>
<line x1="373.60" y1="552" x2="373.60" y2="552.9" stroke="#aaa" stroke-width="0.4"/>
<line x1="375.20" y1="552" x2="375.20" y2="552.9" stroke="#aaa" stroke-width="0.4"/>
<line x1="376.80" y1="552" x2="376.80" y2="552.9" stroke="#aaa" stroke-width="0.4"/>
<line x1="378.40" y1="552" x2="378.40" y2="552.9" stroke="#aaa" stroke-width="0.4"/>
<line x1="380.00" y1="552" x2="380.00" y2="552.9" stroke="#aaa" stroke-width="0.4"/>
<line x1="381.60" y1="552" x2="381.60" y2="552.9" stroke="#aaa" stroke-width="0.4"/>
<line x1="383.20" y1="552" x2="383.20" y2="552.9" stroke="#aaa" stroke-width="0.4"/>
<line x1="384.80" y1="552" x2="384.80" y2="552.9" stroke="#aaa" stroke-width="0.4"/>
<line x1="386.40" y1="552" x2="386.40" y2="552.9" stroke="#aaa" stroke-width="0.4"/>
<line x1="388.00" y1="552" x2="388.00" y2="552.9" stroke="#aaa" stroke-width="0.4"/>
<line x1="389.60" y1="552" x2="389.60" y2="552.9" stroke="#aaa" stroke-width="0.4"/>
<line x1="391.20" y1="552" x2="391.20" y2="552.9" stroke="#aaa" stroke-width="0.4"/>
<line x1="392.80" y1="552" x2="392.80" y2="552.9" stroke="#aaa" stroke-width="0.4"/>
<line x1="394.40" y1="552" x2="394.40" y2="552.9" stroke="#aaa" stroke-width="0.4"/>
<line x1="327.1" y1="551.20" x2="328" y2="551.20" stroke="#aaa" stroke-width="0.4"/>
<line x1="327.1" y1="549.60" x2="328" y2="549.60" stroke="#aaa" stroke-width="0.4"/>
<line x1="327.1" y1="548.00" x2="328" y2="548.00" stroke="#aaa" stroke-width="0.4"/>
<line x1="327.1" y1="546.40" x2="328" y2="546.40" stroke="#aaa" stroke-width="0.4"/>
<line x1="327.1" y1="544.80" x2="328" y2="544.80" stroke="#aaa" stroke-width="0.4"/>
<line x1="327.1" y1="543.20" x2="328" y2="543.20" stroke="#aaa" stroke-width="0.4"/>
<line x1="327.1" y1="541.60" x2="328" y2="541.60" stroke="#aaa" stroke-width="0.4"/>
<line x1="327.1" y1="540.00" x2="328" y2="540.00" stroke="#aaa" stroke-width="0.4"/>
<line x1="327.1" y1="538.40" x2="328" y2="538.40" stroke="#aaa" stroke-width="0.4"/>
<line x1="327.1" y1="536.80" x2="328" y2="536.80" stroke="#aaa" stroke-width="0.4"/>
<line x1="327.1" y1="535.20" x2="328" y2="535.20" stroke="#aaa" stroke-width="0.4"/>
<line x1="327.1" y1="533.60" x2="328" y2="533.60" stroke="#aaa" stroke-width="0.4"/>
<line x1="327.1" y1="532.00" x2="328" y2="532.00" stroke="#aaa" stroke-width="0.4"/>
<line x1="327.1" y1="530.40" x2="328" y2="530.40" stroke="#aaa" stroke-width="0.4"/>
<line x1="327.1" y1="528.80" x2="328" y2="528.80" stroke="#aaa" stroke-width="0.4"/>
<line x1="327.1" y1="527.20" x2="328" y2="527.20" stroke="#aaa" stroke-width="0.4"/>
<line x1="327.1" y1="525.60" x2="328" y2="525.60" stroke="#aaa" stroke-width="0.4"/>
<line x1="327.1" y1="524.00" x2="328" y2="524.00" stroke="#aaa" stroke-width="0.4"/>
<line x1="327.1" y1="522.40" x2="328" y2="522.40" stroke="#aaa" stroke-width="0.4"/>
<line x1="327.1" y1="520.80" x2="328" y2="520.80" stroke="#aaa" stroke-width="0.4"/>
<line x1="327.1" y1="519.20" x2="328" y2="519.20" stroke="#aaa" stroke-width="0.4"/>
<line x1="327.1" y1="517.60" x2="328" y2="517.60" stroke="#aaa" stroke-width="0.4"/>
<line x1="327.1" y1="516.00" x2="328" y2="516.00" stroke="#aaa" stroke-width="0.4"/>
<line x1="327.1" y1="514.40" x2="328" y2="514.40" stroke="#aaa" stroke-width="0.4"/>
<line x1="327.1" y1="512.80" x2="328" y2="512.80" stroke="#aaa" stroke-width="0.4"/>
<line x1="327.1" y1="511.20" x2="328" y2="511.20" stroke="#aaa" stroke-width="0.4"/>
<line x1="327.1" y1="509.60" x2="328" y2="509.60" stroke="#aaa" stroke-width="0.4"/>
<line x1="327.1" y1="508.00" x2="328" y2="508.00" stroke="#aaa" stroke-width="0.4"/>
<line x1="327.1" y1="506.40" x2="328" y2="506.40" stroke="#aaa" stroke-width="0.4"/>
<line x1="327.1" y1="504.80" x2="328" y2="504.80" stroke="#aaa" stroke-width="0.4"/>
<line x1="327.1" y1="503.20" x2="328" y2="503.20" stroke="#aaa" stroke-width="0.4"/>
<line x1="327.1" y1="501.60" x2="328" y2="501.60" stroke="#aaa" stroke-width="0.4"/>
<line x1="327.1" y1="500.00" x2="328" y2="500.00" stroke="#aaa" stroke-width="0.4"/>
<line x1="327.1" y1="498.40" x2="328" y2="498.40" stroke="#aaa" stroke-width="0.4"/>
<line x1="327.1" y1="496.80" x2="328" y2="496.80" stroke="#aaa" stroke-width="0.4"/>
<line x1="327.1" y1="495.20" x2="328" y2="495.20" stroke="#aaa" stroke-width="0.4"/>
<line x1="327.1" y1="493.60" x2="328" y2="493.60" stroke="#aaa" stroke-width="0.4"/>
<line x1="327.1" y1="492.00" x2="328" y2="492.00" stroke="#aaa" stroke-width="0.4"/>
<line x1="327.1" y1="490.40" x2="328" y2="490.40" stroke="#aaa" stroke-width="0.4"/>
<line x1="327.1" y1="488.80" x2="328" y2="488.80" stroke="#aaa" stroke-width="0.4"/>
<line x1="326.5" y1="552.00" x2="328" y2="552.00" stroke="#888" stroke-width="0.5"/>
<text x="326" y="553.00" font-size="2.8" text-anchor="end" fill="#888" stroke="#888" stroke-width="0.00" >0</text>
<line x1="326.5" y1="543.03" x2="328" y2="543.03" stroke="#888" stroke-width="0.5"/>
<text x="326" y="544.03" font-size="2.8" text-anchor="end" fill="#888" stroke="#888" stroke-width="0.00" >10</text>
<line x1="326.5" y1="534.06" x2="328" y2="534.06" stroke="#888" stroke-width="0.5"/>
<text x="326" y="535.06" font-size="2.8" text-anchor="end" fill="#888" stroke="#888" stroke-width="0.00" >20</text>
<line x1="326.5" y1="525.09" x2="328" y2="525.09" stroke="#888" stroke-width="0.5"/>
<text x="326" y="526.09" font-size="2.8" text-anchor="end" fill="#888" stroke="#888" stroke-width="0.00" >30</text>
<line x1="326.5" y1="516.11" x2="328" y2="516.11" stroke="#888" stroke-width="0.5"/>
<text x="326" y="517.11" font-size="2.8" text-anchor="end" fill="#888" stroke="#888" stroke-width="0.00" >40</text>
<line x1="326.5" y1="507.14" x2="328" y2="507.14" stroke="#888" stroke-width="0.5"/>
<text x="326" y="508.14" font-size="2.8" text-anchor="end" fill="#888" stroke="#888" stroke-width="0.00" >50</text>
<line x1="326.5" y1="498.17" x2="328" y2="498.17" stroke="#888" stroke-width="0.5"/>
<text x="326" y="499.17" font-size="2.8" text-anchor="end" fill="#888" stroke="#888" stroke-width="0.00" >60</text>
<line x1="326.5" y1="489.20" x2="328" y2="489.20" stroke="#888" stroke-width="0.5"/>
<text x="326" y="490.20" font-size="2.8" text-anchor="end" fill="#888" stroke="#888" stroke-width="0.00" >70</text>
<line x1="329.35" y1="552" x2="329.35" y2="553.5" stroke="#888" stroke-width="0.5"/>
<text x="329.35" y="556.5" font-size="2.8" text-anchor="middle" fill="#888" stroke="#888" stroke-width="0.00" >-1</text>
<line x1="334.42" y1="552" x2="334.42" y2="553.5" stroke="#888" stroke-width="0.5"/>
<text x="334.42" y="556.5" font-size="2.8" text-anchor="middle" fill="#888" stroke="#888" stroke-width="0.00" >0</text>
<line x1="341.18" y1="552" x2="341.18" y2="553.5" stroke="#888" stroke-width="0.5"/>
<text x="341.18" y="556.5" font-size="2.8" text-anchor="middle" fill="#888" stroke="#888" stroke-width="0.00" >1</text>
<line x1="357.74" y1="552" x2="357.74" y2="553.5" stroke="#888" stroke-width="0.5"/>
<text x="357.74" y="556.5" font-size="2.8" text-anchor="middle" fill="#888" stroke="#888" stroke-width="0.00" >10³</text>
<line x1="376.33" y1="552" x2="376.33" y2="553.5" stroke="#888" stroke-width="0.5"/>
<text x="376.33" y="556.5" font-size="2.8" text-anchor="middle" fill="#888" stroke="#888" stroke-width="0.00" >10⁴</text>
<line x1="394.59" y1="552" x2="394.59" y2="553.5" stroke="#888" stroke-width="0.5"/>
<text x="394.59" y="556.5" font-size="2.8" text-anchor="middle" fill="#888" stroke="#888" stroke-width="0.00" >10⁵</text>
<line x1="330" y1="503.1" x2="395.6" y2="503.1" stroke="#ee8a8a" stroke-width="0.8" stroke-dasharray="2,0.6"/>
<path d="M345.8,552.0 L348.0,547.0 L351.9,534.2 L355.0,522.0 L357.1,513.4 L359.7,503.1 L362.3,504.8 L364.0,509.0 L365.4,511.4 L366.5,508.0 L367.8,503.1 M374.6,503.0 L377.0,504.0 L379.0,502.5 L381.0,503.5 L384.1,501.0 L386.0,502.5 L387.6,503.9 L390.2,510.0 L391.5,518.0 L392.8,530.7 L394.0,541.0 L395.0,549.8" fill="none" stroke="#555" stroke-width="0.85" stroke-linejoin="round"/>
<text x="338" y="497.0" font-size="7.8" text-anchor="start" fill="#111" stroke="#111" stroke-width="0.21" >MFI: 59.9</text>
<rect x="242.7" y="559.4" width="68.10" height="67.90" fill="#fff" stroke="#bdbdbd" stroke-width="0.7"/>
<line x1="242.7" y1="627.3" x2="310.8" y2="627.3" stroke="#999" stroke-width="0.7"/>
<line x1="242.7" y1="559.4" x2="242.7" y2="627.3" stroke="#999" stroke-width="0.7"/>
<line x1="243.50" y1="627.3" x2="243.50" y2="628.1999999999999" stroke="#aaa" stroke-width="0.4"/>
<line x1="245.10" y1="627.3" x2="245.10" y2="628.1999999999999" stroke="#aaa" stroke-width="0.4"/>
<line x1="246.70" y1="627.3" x2="246.70" y2="628.1999999999999" stroke="#aaa" stroke-width="0.4"/>
<line x1="248.30" y1="627.3" x2="248.30" y2="628.1999999999999" stroke="#aaa" stroke-width="0.4"/>
<line x1="249.90" y1="627.3" x2="249.90" y2="628.1999999999999" stroke="#aaa" stroke-width="0.4"/>
<line x1="251.50" y1="627.3" x2="251.50" y2="628.1999999999999" stroke="#aaa" stroke-width="0.4"/>
<line x1="253.10" y1="627.3" x2="253.10" y2="628.1999999999999" stroke="#aaa" stroke-width="0.4"/>
<line x1="254.70" y1="627.3" x2="254.70" y2="628.1999999999999" stroke="#aaa" stroke-width="0.4"/>
<line x1="256.30" y1="627.3" x2="256.30" y2="628.1999999999999" stroke="#aaa" stroke-width="0.4"/>
<line x1="257.90" y1="627.3" x2="257.90" y2="628.1999999999999" stroke="#aaa" stroke-width="0.4"/>
<line x1="259.50" y1="627.3" x2="259.50" y2="628.1999999999999" stroke="#aaa" stroke-width="0.4"/>
<line x1="261.10" y1="627.3" x2="261.10" y2="628.1999999999999" stroke="#aaa" stroke-width="0.4"/>
<line x1="262.70" y1="627.3" x2="262.70" y2="628.1999999999999" stroke="#aaa" stroke-width="0.4"/>
<line x1="264.30" y1="627.3" x2="264.30" y2="628.1999999999999" stroke="#aaa" stroke-width="0.4"/>
<line x1="265.90" y1="627.3" x2="265.90" y2="628.1999999999999" stroke="#aaa" stroke-width="0.4"/>
<line x1="267.50" y1="627.3" x2="267.50" y2="628.1999999999999" stroke="#aaa" stroke-width="0.4"/>
<line x1="269.10" y1="627.3" x2="269.10" y2="628.1999999999999" stroke="#aaa" stroke-width="0.4"/>
<line x1="270.70" y1="627.3" x2="270.70" y2="628.1999999999999" stroke="#aaa" stroke-width="0.4"/>
<line x1="272.30" y1="627.3" x2="272.30" y2="628.1999999999999" stroke="#aaa" stroke-width="0.4"/>
<line x1="273.90" y1="627.3" x2="273.90" y2="628.1999999999999" stroke="#aaa" stroke-width="0.4"/>
<line x1="275.50" y1="627.3" x2="275.50" y2="628.1999999999999" stroke="#aaa" stroke-width="0.4"/>
<line x1="277.10" y1="627.3" x2="277.10" y2="628.1999999999999" stroke="#aaa" stroke-width="0.4"/>
<line x1="278.70" y1="627.3" x2="278.70" y2="628.1999999999999" stroke="#aaa" stroke-width="0.4"/>
<line x1="280.30" y1="627.3" x2="280.30" y2="628.1999999999999" stroke="#aaa" stroke-width="0.4"/>
<line x1="281.90" y1="627.3" x2="281.90" y2="628.1999999999999" stroke="#aaa" stroke-width="0.4"/>
<line x1="283.50" y1="627.3" x2="283.50" y2="628.1999999999999" stroke="#aaa" stroke-width="0.4"/>
<line x1="285.10" y1="627.3" x2="285.10" y2="628.1999999999999" stroke="#aaa" stroke-width="0.4"/>
<line x1="286.70" y1="627.3" x2="286.70" y2="628.1999999999999" stroke="#aaa" stroke-width="0.4"/>
<line x1="288.30" y1="627.3" x2="288.30" y2="628.1999999999999" stroke="#aaa" stroke-width="0.4"/>
<line x1="289.90" y1="627.3" x2="289.90" y2="628.1999999999999" stroke="#aaa" stroke-width="0.4"/>
<line x1="291.50" y1="627.3" x2="291.50" y2="628.1999999999999" stroke="#aaa" stroke-width="0.4"/>
<line x1="293.10" y1="627.3" x2="293.10" y2="628.1999999999999" stroke="#aaa" stroke-width="0.4"/>
<line x1="294.70" y1="627.3" x2="294.70" y2="628.1999999999999" stroke="#aaa" stroke-width="0.4"/>
<line x1="296.30" y1="627.3" x2="296.30" y2="628.1999999999999" stroke="#aaa" stroke-width="0.4"/>
<line x1="297.90" y1="627.3" x2="297.90" y2="628.1999999999999" stroke="#aaa" stroke-width="0.4"/>
<line x1="299.50" y1="627.3" x2="299.50" y2="628.1999999999999" stroke="#aaa" stroke-width="0.4"/>
<line x1="301.10" y1="627.3" x2="301.10" y2="628.1999999999999" stroke="#aaa" stroke-width="0.4"/>
<line x1="302.70" y1="627.3" x2="302.70" y2="628.1999999999999" stroke="#aaa" stroke-width="0.4"/>
<line x1="304.30" y1="627.3" x2="304.30" y2="628.1999999999999" stroke="#aaa" stroke-width="0.4"/>
<line x1="305.90" y1="627.3" x2="305.90" y2="628.1999999999999" stroke="#aaa" stroke-width="0.4"/>
<line x1="307.50" y1="627.3" x2="307.50" y2="628.1999999999999" stroke="#aaa" stroke-width="0.4"/>
<line x1="309.10" y1="627.3" x2="309.10" y2="628.1999999999999" stroke="#aaa" stroke-width="0.4"/>
<line x1="241.79999999999998" y1="626.50" x2="242.7" y2="626.50" stroke="#aaa" stroke-width="0.4"/>
<line x1="241.79999999999998" y1="624.90" x2="242.7" y2="624.90" stroke="#aaa" stroke-width="0.4"/>
<line x1="241.79999999999998" y1="623.30" x2="242.7" y2="623.30" stroke="#aaa" stroke-width="0.4"/>
<line x1="241.79999999999998" y1="621.70" x2="242.7" y2="621.70" stroke="#aaa" stroke-width="0.4"/>
<line x1="241.79999999999998" y1="620.10" x2="242.7" y2="620.10" stroke="#aaa" stroke-width="0.4"/>
<line x1="241.79999999999998" y1="618.50" x2="242.7" y2="618.50" stroke="#aaa" stroke-width="0.4"/>
<line x1="241.79999999999998" y1="616.90" x2="242.7" y2="616.90" stroke="#aaa" stroke-width="0.4"/>
<line x1="241.79999999999998" y1="615.30" x2="242.7" y2="615.30" stroke="#aaa" stroke-width="0.4"/>
<line x1="241.79999999999998" y1="613.70" x2="242.7" y2="613.70" stroke="#aaa" stroke-width="0.4"/>
<line x1="241.79999999999998" y1="612.10" x2="242.7" y2="612.10" stroke="#aaa" stroke-width="0.4"/>
<line x1="241.79999999999998" y1="610.50" x2="242.7" y2="610.50" stroke="#aaa" stroke-width="0.4"/>
<line x1="241.79999999999998" y1="608.90" x2="242.7" y2="608.90" stroke="#aaa" stroke-width="0.4"/>
<line x1="241.79999999999998" y1="607.30" x2="242.7" y2="607.30" stroke="#aaa" stroke-width="0.4"/>
<line x1="241.79999999999998" y1="605.70" x2="242.7" y2="605.70" stroke="#aaa" stroke-width="0.4"/>
<line x1="241.79999999999998" y1="604.10" x2="242.7" y2="604.10" stroke="#aaa" stroke-width="0.4"/>
<line x1="241.79999999999998" y1="602.50" x2="242.7" y2="602.50" stroke="#aaa" stroke-width="0.4"/>
<line x1="241.79999999999998" y1="600.90" x2="242.7" y2="600.90" stroke="#aaa" stroke-width="0.4"/>
<line x1="241.79999999999998" y1="599.30" x2="242.7" y2="599.30" stroke="#aaa" stroke-width="0.4"/>
<line x1="241.79999999999998" y1="597.70" x2="242.7" y2="597.70" stroke="#aaa" stroke-width="0.4"/>
<line x1="241.79999999999998" y1="596.10" x2="242.7" y2="596.10" stroke="#aaa" stroke-width="0.4"/>
<line x1="241.79999999999998" y1="594.50" x2="242.7" y2="594.50" stroke="#aaa" stroke-width="0.4"/>
<line x1="241.79999999999998" y1="592.90" x2="242.7" y2="592.90" stroke="#aaa" stroke-width="0.4"/>
<line x1="241.79999999999998" y1="591.30" x2="242.7" y2="591.30" stroke="#aaa" stroke-width="0.4"/>
<line x1="241.79999999999998" y1="589.70" x2="242.7" y2="589.70" stroke="#aaa" stroke-width="0.4"/>
<line x1="241.79999999999998" y1="588.10" x2="242.7" y2="588.10" stroke="#aaa" stroke-width="0.4"/>
<line x1="241.79999999999998" y1="586.50" x2="242.7" y2="586.50" stroke="#aaa" stroke-width="0.4"/>
<line x1="241.79999999999998" y1="584.90" x2="242.7" y2="584.90" stroke="#aaa" stroke-width="0.4"/>
<line x1="241.79999999999998" y1="583.30" x2="242.7" y2="583.30" stroke="#aaa" stroke-width="0.4"/>
<line x1="241.79999999999998" y1="581.70" x2="242.7" y2="581.70" stroke="#aaa" stroke-width="0.4"/>
<line x1="241.79999999999998" y1="580.10" x2="242.7" y2="580.10" stroke="#aaa" stroke-width="0.4"/>
<line x1="241.79999999999998" y1="578.50" x2="242.7" y2="578.50" stroke="#aaa" stroke-width="0.4"/>
<line x1="241.79999999999998" y1="576.90" x2="242.7" y2="576.90" stroke="#aaa" stroke-width="0.4"/>
<line x1="241.79999999999998" y1="575.30" x2="242.7" y2="575.30" stroke="#aaa" stroke-width="0.4"/>
<line x1="241.79999999999998" y1="573.70" x2="242.7" y2="573.70" stroke="#aaa" stroke-width="0.4"/>
<line x1="241.79999999999998" y1="572.10" x2="242.7" y2="572.10" stroke="#aaa" stroke-width="0.4"/>
<line x1="241.79999999999998" y1="570.50" x2="242.7" y2="570.50" stroke="#aaa" stroke-width="0.4"/>
<line x1="241.79999999999998" y1="568.90" x2="242.7" y2="568.90" stroke="#aaa" stroke-width="0.4"/>
<line x1="241.79999999999998" y1="567.30" x2="242.7" y2="567.30" stroke="#aaa" stroke-width="0.4"/>
<line x1="241.79999999999998" y1="565.70" x2="242.7" y2="565.70" stroke="#aaa" stroke-width="0.4"/>
<line x1="241.79999999999998" y1="564.10" x2="242.7" y2="564.10" stroke="#aaa" stroke-width="0.4"/>
<line x1="241.2" y1="627.30" x2="242.7" y2="627.30" stroke="#888" stroke-width="0.5"/>
<text x="240.7" y="628.30" font-size="2.8" text-anchor="end" fill="#888" stroke="#888" stroke-width="0.00" >0</text>
<line x1="241.2" y1="612.50" x2="242.7" y2="612.50" stroke="#888" stroke-width="0.5"/>
<text x="240.7" y="613.50" font-size="2.8" text-anchor="end" fill="#888" stroke="#888" stroke-width="0.00" >25</text>
<line x1="241.2" y1="597.70" x2="242.7" y2="597.70" stroke="#888" stroke-width="0.5"/>
<text x="240.7" y="598.70" font-size="2.8" text-anchor="end" fill="#888" stroke="#888" stroke-width="0.00" >50</text>
<line x1="241.2" y1="582.90" x2="242.7" y2="582.90" stroke="#888" stroke-width="0.5"/>
<text x="240.7" y="583.90" font-size="2.8" text-anchor="end" fill="#888" stroke="#888" stroke-width="0.00" >75</text>
<line x1="241.2" y1="568.10" x2="242.7" y2="568.10" stroke="#888" stroke-width="0.5"/>
<text x="240.7" y="569.10" font-size="2.8" text-anchor="end" fill="#888" stroke="#888" stroke-width="0.00" >100</text>
<line x1="244.06" y1="627.3" x2="244.06" y2="628.8" stroke="#888" stroke-width="0.5"/>
<text x="244.06" y="631.8" font-size="2.8" text-anchor="middle" fill="#888" stroke="#888" stroke-width="0.00" >-1</text>
<line x1="249.17" y1="627.3" x2="249.17" y2="628.8" stroke="#888" stroke-width="0.5"/>
<text x="249.17" y="631.8" font-size="2.8" text-anchor="middle" fill="#888" stroke="#888" stroke-width="0.00" >0</text>
<line x1="255.98" y1="627.3" x2="255.98" y2="628.8" stroke="#888" stroke-width="0.5"/>
<text x="255.98" y="631.8" font-size="2.8" text-anchor="middle" fill="#888" stroke="#888" stroke-width="0.00" >1</text>
<line x1="272.66" y1="627.3" x2="272.66" y2="628.8" stroke="#888" stroke-width="0.5"/>
<text x="272.66" y="631.8" font-size="2.8" text-anchor="middle" fill="#888" stroke="#888" stroke-width="0.00" >10³</text>
<line x1="291.39" y1="627.3" x2="291.39" y2="628.8" stroke="#888" stroke-width="0.5"/>
<text x="291.39" y="631.8" font-size="2.8" text-anchor="middle" fill="#888" stroke="#888" stroke-width="0.00" >10⁴</text>
<line x1="309.78" y1="627.3" x2="309.78" y2="628.8" stroke="#888" stroke-width="0.5"/>
<text x="309.78" y="631.8" font-size="2.8" text-anchor="middle" fill="#888" stroke="#888" stroke-width="0.00" >10⁵</text>
<line x1="244.7" y1="578.1" x2="310.8" y2="578.1" stroke="#ee8a8a" stroke-width="0.8" stroke-dasharray="2,0.6"/>
<path d="M250.0,627.3 L256.5,627.3 L260.0,623.5 L263.3,618.0 L266.0,606.0 L268.0,593.0 L270.0,590.5 L272.0,589.2 L273.5,585.0 L274.8,579.6 L275.8,577.7 M282.5,577.7 L284.0,584.0 L285.4,590.2 L287.0,590.0 L288.3,587.3 L290.0,579.0 L291.2,575.8 L292.5,575.5 L294.0,578.7 L295.5,590.0 L296.9,602.7 L298.8,614.0 L300.8,623.8 L302.5,626.5 L304.6,627.3" fill="none" stroke="#555" stroke-width="0.85" stroke-linejoin="round"/>
<text x="249.2" y="572.9" font-size="7.8" text-anchor="start" fill="#111" stroke="#111" stroke-width="0.21" >MFI: 24.9</text>
<rect x="328.5" y="559.4" width="67.30" height="67.30" fill="#fff" stroke="#bdbdbd" stroke-width="0.7"/>
<line x1="328.5" y1="626.7" x2="395.8" y2="626.7" stroke="#999" stroke-width="0.7"/>
<line x1="328.5" y1="559.4" x2="328.5" y2="626.7" stroke="#999" stroke-width="0.7"/>
<line x1="329.30" y1="626.7" x2="329.30" y2="627.6" stroke="#aaa" stroke-width="0.4"/>
<line x1="330.90" y1="626.7" x2="330.90" y2="627.6" stroke="#aaa" stroke-width="0.4"/>
<line x1="332.50" y1="626.7" x2="332.50" y2="627.6" stroke="#aaa" stroke-width="0.4"/>
<line x1="334.10" y1="626.7" x2="334.10" y2="627.6" stroke="#aaa" stroke-width="0.4"/>
<line x1="335.70" y1="626.7" x2="335.70" y2="627.6" stroke="#aaa" stroke-width="0.4"/>
<line x1="337.30" y1="626.7" x2="337.30" y2="627.6" stroke="#aaa" stroke-width="0.4"/>
<line x1="338.90" y1="626.7" x2="338.90" y2="627.6" stroke="#aaa" stroke-width="0.4"/>
<line x1="340.50" y1="626.7" x2="340.50" y2="627.6" stroke="#aaa" stroke-width="0.4"/>
<line x1="342.10" y1="626.7" x2="342.10" y2="627.6" stroke="#aaa" stroke-width="0.4"/>
<line x1="343.70" y1="626.7" x2="343.70" y2="627.6" stroke="#aaa" stroke-width="0.4"/>
<line x1="345.30" y1="626.7" x2="345.30" y2="627.6" stroke="#aaa" stroke-width="0.4"/>
<line x1="346.90" y1="626.7" x2="346.90" y2="627.6" stroke="#aaa" stroke-width="0.4"/>
<line x1="348.50" y1="626.7" x2="348.50" y2="627.6" stroke="#aaa" stroke-width="0.4"/>
<line x1="350.10" y1="626.7" x2="350.10" y2="627.6" stroke="#aaa" stroke-width="0.4"/>
<line x1="351.70" y1="626.7" x2="351.70" y2="627.6" stroke="#aaa" stroke-width="0.4"/>
<line x1="353.30" y1="626.7" x2="353.30" y2="627.6" stroke="#aaa" stroke-width="0.4"/>
<line x1="354.90" y1="626.7" x2="354.90" y2="627.6" stroke="#aaa" stroke-width="0.4"/>
<line x1="356.50" y1="626.7" x2="356.50" y2="627.6" stroke="#aaa" stroke-width="0.4"/>
<line x1="358.10" y1="626.7" x2="358.10" y2="627.6" stroke="#aaa" stroke-width="0.4"/>
<line x1="359.70" y1="626.7" x2="359.70" y2="627.6" stroke="#aaa" stroke-width="0.4"/>
<line x1="361.30" y1="626.7" x2="361.30" y2="627.6" stroke="#aaa" stroke-width="0.4"/>
<line x1="362.90" y1="626.7" x2="362.90" y2="627.6" stroke="#aaa" stroke-width="0.4"/>
<line x1="364.50" y1="626.7" x2="364.50" y2="627.6" stroke="#aaa" stroke-width="0.4"/>
<line x1="366.10" y1="626.7" x2="366.10" y2="627.6" stroke="#aaa" stroke-width="0.4"/>
<line x1="367.70" y1="626.7" x2="367.70" y2="627.6" stroke="#aaa" stroke-width="0.4"/>
<line x1="369.30" y1="626.7" x2="369.30" y2="627.6" stroke="#aaa" stroke-width="0.4"/>
<line x1="370.90" y1="626.7" x2="370.90" y2="627.6" stroke="#aaa" stroke-width="0.4"/>
<line x1="372.50" y1="626.7" x2="372.50" y2="627.6" stroke="#aaa" stroke-width="0.4"/>
<line x1="374.10" y1="626.7" x2="374.10" y2="627.6" stroke="#aaa" stroke-width="0.4"/>
<line x1="375.70" y1="626.7" x2="375.70" y2="627.6" stroke="#aaa" stroke-width="0.4"/>
<line x1="377.30" y1="626.7" x2="377.30" y2="627.6" stroke="#aaa" stroke-width="0.4"/>
<line x1="378.90" y1="626.7" x2="378.90" y2="627.6" stroke="#aaa" stroke-width="0.4"/>
<line x1="380.50" y1="626.7" x2="380.50" y2="627.6" stroke="#aaa" stroke-width="0.4"/>
<line x1="382.10" y1="626.7" x2="382.10" y2="627.6" stroke="#aaa" stroke-width="0.4"/>
<line x1="383.70" y1="626.7" x2="383.70" y2="627.6" stroke="#aaa" stroke-width="0.4"/>
<line x1="385.30" y1="626.7" x2="385.30" y2="627.6" stroke="#aaa" stroke-width="0.4"/>
<line x1="386.90" y1="626.7" x2="386.90" y2="627.6" stroke="#aaa" stroke-width="0.4"/>
<line x1="388.50" y1="626.7" x2="388.50" y2="627.6" stroke="#aaa" stroke-width="0.4"/>
<line x1="390.10" y1="626.7" x2="390.10" y2="627.6" stroke="#aaa" stroke-width="0.4"/>
<line x1="391.70" y1="626.7" x2="391.70" y2="627.6" stroke="#aaa" stroke-width="0.4"/>
<line x1="393.30" y1="626.7" x2="393.30" y2="627.6" stroke="#aaa" stroke-width="0.4"/>
<line x1="394.90" y1="626.7" x2="394.90" y2="627.6" stroke="#aaa" stroke-width="0.4"/>
<line x1="327.6" y1="625.90" x2="328.5" y2="625.90" stroke="#aaa" stroke-width="0.4"/>
<line x1="327.6" y1="624.30" x2="328.5" y2="624.30" stroke="#aaa" stroke-width="0.4"/>
<line x1="327.6" y1="622.70" x2="328.5" y2="622.70" stroke="#aaa" stroke-width="0.4"/>
<line x1="327.6" y1="621.10" x2="328.5" y2="621.10" stroke="#aaa" stroke-width="0.4"/>
<line x1="327.6" y1="619.50" x2="328.5" y2="619.50" stroke="#aaa" stroke-width="0.4"/>
<line x1="327.6" y1="617.90" x2="328.5" y2="617.90" stroke="#aaa" stroke-width="0.4"/>
<line x1="327.6" y1="616.30" x2="328.5" y2="616.30" stroke="#aaa" stroke-width="0.4"/>
<line x1="327.6" y1="614.70" x2="328.5" y2="614.70" stroke="#aaa" stroke-width="0.4"/>
<line x1="327.6" y1="613.10" x2="328.5" y2="613.10" stroke="#aaa" stroke-width="0.4"/>
<line x1="327.6" y1="611.50" x2="328.5" y2="611.50" stroke="#aaa" stroke-width="0.4"/>
<line x1="327.6" y1="609.90" x2="328.5" y2="609.90" stroke="#aaa" stroke-width="0.4"/>
<line x1="327.6" y1="608.30" x2="328.5" y2="608.30" stroke="#aaa" stroke-width="0.4"/>
<line x1="327.6" y1="606.70" x2="328.5" y2="606.70" stroke="#aaa" stroke-width="0.4"/>
<line x1="327.6" y1="605.10" x2="328.5" y2="605.10" stroke="#aaa" stroke-width="0.4"/>
<line x1="327.6" y1="603.50" x2="328.5" y2="603.50" stroke="#aaa" stroke-width="0.4"/>
<line x1="327.6" y1="601.90" x2="328.5" y2="601.90" stroke="#aaa" stroke-width="0.4"/>
<line x1="327.6" y1="600.30" x2="328.5" y2="600.30" stroke="#aaa" stroke-width="0.4"/>
<line x1="327.6" y1="598.70" x2="328.5" y2="598.70" stroke="#aaa" stroke-width="0.4"/>
<line x1="327.6" y1="597.10" x2="328.5" y2="597.10" stroke="#aaa" stroke-width="0.4"/>
<line x1="327.6" y1="595.50" x2="328.5" y2="595.50" stroke="#aaa" stroke-width="0.4"/>
<line x1="327.6" y1="593.90" x2="328.5" y2="593.90" stroke="#aaa" stroke-width="0.4"/>
<line x1="327.6" y1="592.30" x2="328.5" y2="592.30" stroke="#aaa" stroke-width="0.4"/>
<line x1="327.6" y1="590.70" x2="328.5" y2="590.70" stroke="#aaa" stroke-width="0.4"/>
<line x1="327.6" y1="589.10" x2="328.5" y2="589.10" stroke="#aaa" stroke-width="0.4"/>
<line x1="327.6" y1="587.50" x2="328.5" y2="587.50" stroke="#aaa" stroke-width="0.4"/>
<line x1="327.6" y1="585.90" x2="328.5" y2="585.90" stroke="#aaa" stroke-width="0.4"/>
<line x1="327.6" y1="584.30" x2="328.5" y2="584.30" stroke="#aaa" stroke-width="0.4"/>
<line x1="327.6" y1="582.70" x2="328.5" y2="582.70" stroke="#aaa" stroke-width="0.4"/>
<line x1="327.6" y1="581.10" x2="328.5" y2="581.10" stroke="#aaa" stroke-width="0.4"/>
<line x1="327.6" y1="579.50" x2="328.5" y2="579.50" stroke="#aaa" stroke-width="0.4"/>
<line x1="327.6" y1="577.90" x2="328.5" y2="577.90" stroke="#aaa" stroke-width="0.4"/>
<line x1="327.6" y1="576.30" x2="328.5" y2="576.30" stroke="#aaa" stroke-width="0.4"/>
<line x1="327.6" y1="574.70" x2="328.5" y2="574.70" stroke="#aaa" stroke-width="0.4"/>
<line x1="327.6" y1="573.10" x2="328.5" y2="573.10" stroke="#aaa" stroke-width="0.4"/>
<line x1="327.6" y1="571.50" x2="328.5" y2="571.50" stroke="#aaa" stroke-width="0.4"/>
<line x1="327.6" y1="569.90" x2="328.5" y2="569.90" stroke="#aaa" stroke-width="0.4"/>
<line x1="327.6" y1="568.30" x2="328.5" y2="568.30" stroke="#aaa" stroke-width="0.4"/>
<line x1="327.6" y1="566.70" x2="328.5" y2="566.70" stroke="#aaa" stroke-width="0.4"/>
<line x1="327.6" y1="565.10" x2="328.5" y2="565.10" stroke="#aaa" stroke-width="0.4"/>
<line x1="327.6" y1="563.50" x2="328.5" y2="563.50" stroke="#aaa" stroke-width="0.4"/>
<line x1="327.0" y1="626.70" x2="328.5" y2="626.70" stroke="#888" stroke-width="0.5"/>
<text x="326.5" y="627.70" font-size="2.8" text-anchor="end" fill="#888" stroke="#888" stroke-width="0.00" >0</text>
<line x1="327.0" y1="611.33" x2="328.5" y2="611.33" stroke="#888" stroke-width="0.5"/>
<text x="326.5" y="612.33" font-size="2.8" text-anchor="end" fill="#888" stroke="#888" stroke-width="0.00" >25</text>
<line x1="327.0" y1="595.95" x2="328.5" y2="595.95" stroke="#888" stroke-width="0.5"/>
<text x="326.5" y="596.95" font-size="2.8" text-anchor="end" fill="#888" stroke="#888" stroke-width="0.00" >50</text>
<line x1="327.0" y1="580.58" x2="328.5" y2="580.58" stroke="#888" stroke-width="0.5"/>
<text x="326.5" y="581.58" font-size="2.8" text-anchor="end" fill="#888" stroke="#888" stroke-width="0.00" >75</text>
<line x1="327.0" y1="565.20" x2="328.5" y2="565.20" stroke="#888" stroke-width="0.5"/>
<text x="326.5" y="566.20" font-size="2.8" text-anchor="end" fill="#888" stroke="#888" stroke-width="0.00" >100</text>
<line x1="329.85" y1="626.7" x2="329.85" y2="628.2" stroke="#888" stroke-width="0.5"/>
<text x="329.85" y="631.2" font-size="2.8" text-anchor="middle" fill="#888" stroke="#888" stroke-width="0.00" >-1</text>
<line x1="334.89" y1="626.7" x2="334.89" y2="628.2" stroke="#888" stroke-width="0.5"/>
<text x="334.89" y="631.2" font-size="2.8" text-anchor="middle" fill="#888" stroke="#888" stroke-width="0.00" >0</text>
<line x1="341.62" y1="626.7" x2="341.62" y2="628.2" stroke="#888" stroke-width="0.5"/>
<text x="341.62" y="631.2" font-size="2.8" text-anchor="middle" fill="#888" stroke="#888" stroke-width="0.00" >1</text>
<line x1="358.11" y1="626.7" x2="358.11" y2="628.2" stroke="#888" stroke-width="0.5"/>
<text x="358.11" y="631.2" font-size="2.8" text-anchor="middle" fill="#888" stroke="#888" stroke-width="0.00" >10³</text>
<line x1="376.62" y1="626.7" x2="376.62" y2="628.2" stroke="#888" stroke-width="0.5"/>
<text x="376.62" y="631.2" font-size="2.8" text-anchor="middle" fill="#888" stroke="#888" stroke-width="0.00" >10⁴</text>
<line x1="394.79" y1="626.7" x2="394.79" y2="628.2" stroke="#888" stroke-width="0.5"/>
<text x="394.79" y="631.2" font-size="2.8" text-anchor="middle" fill="#888" stroke="#888" stroke-width="0.00" >10⁵</text>
<line x1="330.5" y1="577.7" x2="395.8" y2="577.7" stroke="#ee8a8a" stroke-width="0.8" stroke-dasharray="2,0.6"/>
<path d="M336.0,626.7 L343.3,626.7 L348.0,625.4 L351.0,618.0 L353.8,608.5 L355.7,602.0 L357.7,596.9 L359.5,595.0 L361.5,594.0 L363.5,592.5 L365.4,590.2 L367.0,584.0 L368.8,577.7 L371.0,578.5 L373.0,577.7 L375.0,579.0 L377.0,578.0 L378.8,579.6 L380.5,578.5 L382.7,578.1 L384.0,574.0 L385.0,571.9 L386.0,574.0 L386.9,577.7 L388.0,590.0 L389.4,606.5 L391.0,616.0 L392.3,621.9 L394.0,625.5 L395.2,626.7" fill="none" stroke="#555" stroke-width="0.85" stroke-linejoin="round"/>
<text x="336.2" y="571.9" font-size="7.8" text-anchor="start" fill="#111" stroke="#111" stroke-width="0.21" >MFI: 61.2</text>
<text x="274.7" y="479.7" font-size="8.4" text-anchor="middle" fill="#111" stroke="#111" stroke-width="0.22" >WT</text>
<text x="360.3" y="479.7" font-size="8.8" text-anchor="middle" fill="#111" stroke="#111" stroke-width="0.22" >MycT58A</text>
<text transform="translate(231.2,518.6) rotate(-90)" font-size="8.7" text-anchor="middle" fill="#111" stroke="#111" stroke-width="0.22">DMSO</text>
<text transform="translate(231.2,595.5) rotate(-90)" font-size="8.6" text-anchor="middle" fill="#111" stroke="#111" stroke-width="0.22">NSC12</text>
<line x1="247.9" y1="638.8" x2="390.4" y2="638.8" stroke="#555" stroke-width="1.0" stroke-dasharray="1.2,0.9"/>
<text x="317.8" y="648.5" font-size="8.6" text-anchor="middle" fill="#111" stroke="#111" stroke-width="0.22" >GSH</text>
</svg>
</body></html>
